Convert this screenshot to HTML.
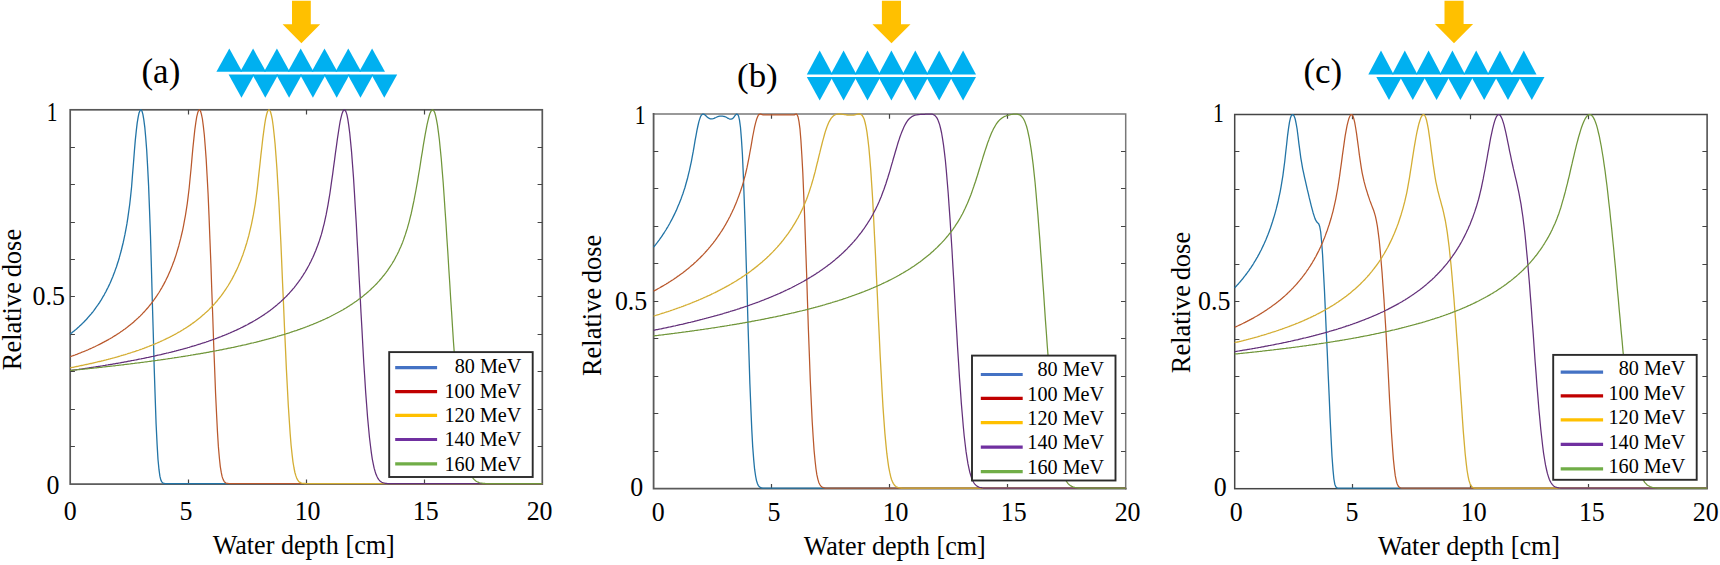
<!DOCTYPE html>
<html lang="en"><head><meta charset="utf-8"><title>Depth dose curves</title>
<style>
html,body{margin:0;padding:0;background:#fff;overflow:hidden}
svg{display:block}
text{font-family:"Liberation Serif",serif;fill:#000}
</style></head>
<body>
<svg width="1720" height="565" viewBox="0 0 1720 565">
<g id="panel-a">
<polygon fill="#FFC000" points="292.0,0.8 310.8,0.8 310.8,24.3 320.2,24.3 301.4,43.3 282.6,24.3 292.0,24.3"/>
<g fill="#00B0F0"><polygon points="216.4,71.8 242.2,71.8 229.3,48.6"/><polygon points="240.2,71.8 266.0,71.8 253.1,48.6"/><polygon points="264.0,71.8 289.8,71.8 276.9,48.6"/><polygon points="287.8,71.8 313.6,71.8 300.7,48.6"/><polygon points="311.6,71.8 337.4,71.8 324.5,48.6"/><polygon points="335.4,71.8 361.2,71.8 348.3,48.6"/><polygon points="359.2,71.8 385.0,71.8 372.1,48.6"/>
<polygon points="228.6,74.4 254.4,74.4 241.5,97.8"/><polygon points="252.4,74.4 278.2,74.4 265.3,97.8"/><polygon points="276.2,74.4 302.0,74.4 289.1,97.8"/><polygon points="300.0,74.4 325.8,74.4 312.9,97.8"/><polygon points="323.8,74.4 349.6,74.4 336.7,97.8"/><polygon points="347.6,74.4 373.4,74.4 360.5,97.8"/><polygon points="371.4,74.4 397.2,74.4 384.3,97.8"/></g>
<rect x="70.2" y="109.8" width="472.1" height="374.3" fill="none" stroke="#575757" stroke-width="1.7"/>
<path d="M70.2,446.5h4.7M542.3,446.5h-4.7M70.2,409.5h4.7M542.3,409.5h-4.7M70.2,371.5h4.7M542.3,371.5h-4.7M70.2,334.5h4.7M542.3,334.5h-4.7M70.2,296.5h4.7M542.3,296.5h-4.7M70.2,259.5h4.7M542.3,259.5h-4.7M70.2,222.5h4.7M542.3,222.5h-4.7M70.2,184.5h4.7M542.3,184.5h-4.7M70.2,147.5h4.7M542.3,147.5h-4.7M188.5,484.1v-4.7M188.5,109.8v4.7M306.5,484.1v-4.7M306.5,109.8v4.7M424.5,484.1v-4.7M424.5,109.8v4.7" stroke="#444" stroke-width="1.2" fill="none"/>
<g fill="none" stroke-linejoin="round">
<path stroke="#2274a6" stroke-width="1.3" d="M70.2,334.1 L71.1,333.3 L72.1,332.6 L73.0,331.8 L74.0,331.1 L74.9,330.3 L75.9,329.5 L76.8,328.7 L77.8,327.8 L78.7,327.0 L79.6,326.1 L80.6,325.2 L81.5,324.3 L82.5,323.4 L83.4,322.5 L84.4,321.5 L85.3,320.5 L86.3,319.5 L87.2,318.5 L88.1,317.4 L89.1,316.3 L90.0,315.2 L91.0,314.1 L91.9,313.0 L92.9,311.8 L93.8,310.6 L94.7,309.3 L95.7,308.0 L96.6,306.7 L97.6,305.4 L98.5,304.0 L99.5,302.6 L100.4,301.1 L101.4,299.6 L102.3,298.0 L103.2,296.4 L104.2,294.8 L105.1,293.0 L106.1,291.3 L107.0,289.4 L108.0,287.5 L108.9,285.6 L109.9,283.5 L110.8,281.4 L111.7,279.2 L112.7,276.9 L113.6,274.5 L114.6,272.0 L115.5,269.4 L116.5,266.7 L117.4,263.8 L118.4,260.8 L119.3,257.7 L120.2,254.3 L121.2,250.8 L122.1,247.0 L123.1,243.0 L124.0,238.8 L125.0,234.2 L125.9,229.3 L126.9,223.9 L127.8,218.1 L128.7,211.7 L129.7,204.5 L130.6,196.4 L131.6,186.7 L132.5,174.9 L133.5,162.8 L134.4,151.0 L135.3,140.1 L136.3,130.6 L137.2,122.9 L138.2,116.9 L139.1,112.7 L140.1,110.4 L141.0,109.8 L142.0,111.1 L142.9,114.4 L143.8,119.7 L144.8,127.3 L145.7,137.3 L146.7,150.2 L147.6,166.3 L148.6,185.9 L149.5,209.3 L150.5,236.5 L151.4,267.2 L152.3,300.4 L153.3,334.5 L154.2,367.7 L155.2,398.0 L156.1,423.9 L157.1,444.4 L158.0,459.5 L159.0,469.7 L159.9,476.2 L160.8,479.9 L161.8,481.9 L162.7,482.9 L163.7,483.3 L164.6,483.5 L165.6,483.6 L166.5,483.6 L542.3,483.6"/>
<path stroke="#b9582c" stroke-width="1.25" d="M70.2,356.7 L71.1,356.4 L72.1,356.0 L73.0,355.7 L74.0,355.3 L74.9,355.0 L75.9,354.6 L76.8,354.3 L77.8,353.9 L78.7,353.5 L79.6,353.2 L80.6,352.8 L81.5,352.4 L82.5,352.0 L83.4,351.7 L84.4,351.3 L85.3,350.9 L86.3,350.5 L87.2,350.1 L88.1,349.7 L89.1,349.2 L90.0,348.8 L91.0,348.4 L91.9,348.0 L92.9,347.5 L93.8,347.1 L94.7,346.7 L95.7,346.2 L96.6,345.8 L97.6,345.3 L98.5,344.8 L99.5,344.4 L100.4,343.9 L101.4,343.4 L102.3,342.9 L103.2,342.4 L104.2,341.9 L105.1,341.4 L106.1,340.9 L107.0,340.4 L108.0,339.9 L108.9,339.3 L109.9,338.8 L110.8,338.2 L111.7,337.7 L112.7,337.1 L113.6,336.5 L114.6,335.9 L115.5,335.4 L116.5,334.8 L117.4,334.1 L118.4,333.5 L119.3,332.9 L120.2,332.3 L121.2,331.6 L122.1,331.0 L123.1,330.3 L124.0,329.6 L125.0,328.9 L125.9,328.2 L126.9,327.5 L127.8,326.8 L128.7,326.0 L129.7,325.3 L130.6,324.5 L131.6,323.8 L132.5,323.0 L133.5,322.2 L134.4,321.3 L135.3,320.5 L136.3,319.6 L137.2,318.8 L138.2,317.9 L139.1,317.0 L140.1,316.1 L141.0,315.1 L142.0,314.2 L142.9,313.2 L143.8,312.2 L144.8,311.2 L145.7,310.1 L146.7,309.0 L147.6,308.0 L148.6,306.8 L149.5,305.7 L150.5,304.5 L151.4,303.3 L152.3,302.1 L153.3,300.8 L154.2,299.5 L155.2,298.2 L156.1,296.8 L157.1,295.4 L158.0,294.0 L159.0,292.5 L159.9,291.0 L160.8,289.4 L161.8,287.8 L162.7,286.1 L163.7,284.4 L164.6,282.6 L165.6,280.7 L166.5,278.8 L167.5,276.9 L168.4,274.8 L169.3,272.7 L170.3,270.5 L171.2,268.2 L172.2,265.8 L173.1,263.3 L174.1,260.7 L175.0,258.0 L176.0,255.1 L176.9,252.1 L177.8,249.0 L178.8,245.7 L179.7,242.2 L180.7,238.4 L181.6,234.5 L182.6,230.3 L183.5,225.8 L184.4,220.9 L185.4,215.6 L186.3,209.8 L187.3,203.4 L188.2,196.2 L189.2,187.8 L190.1,178.2 L191.1,168.2 L192.0,157.9 L192.9,147.9 L193.9,138.4 L194.8,129.9 L195.8,122.7 L196.7,116.9 L197.7,112.8 L198.6,110.4 L199.6,109.8 L200.5,111.0 L201.4,114.1 L202.4,119.0 L203.3,125.9 L204.3,134.8 L205.2,146.0 L206.2,159.6 L207.1,175.7 L208.1,194.3 L209.0,215.4 L209.9,238.8 L210.9,264.1 L211.8,290.8 L212.8,317.9 L213.7,344.8 L214.7,370.3 L215.6,393.9 L216.6,414.7 L217.5,432.4 L218.4,446.9 L219.4,458.2 L220.3,466.6 L221.3,472.7 L222.2,476.9 L223.2,479.6 L224.1,481.3 L225.0,482.4 L226.0,483.0 L226.9,483.3 L227.9,483.4 L228.8,483.5 L229.8,483.6 L542.3,483.6"/>
<path stroke="#d4ae34" stroke-width="1.3" d="M70.2,367.8 L71.1,367.6 L72.1,367.4 L73.0,367.3 L74.0,367.1 L74.9,366.9 L75.9,366.7 L76.8,366.5 L77.8,366.3 L78.7,366.1 L79.6,365.9 L80.6,365.7 L81.5,365.5 L82.5,365.3 L83.4,365.1 L84.4,364.9 L85.3,364.7 L86.3,364.5 L87.2,364.3 L88.1,364.1 L89.1,363.9 L90.0,363.7 L91.0,363.5 L91.9,363.3 L92.9,363.0 L93.8,362.8 L94.7,362.6 L95.7,362.4 L96.6,362.2 L97.6,361.9 L98.5,361.7 L99.5,361.5 L100.4,361.3 L101.4,361.0 L102.3,360.8 L103.2,360.6 L104.2,360.3 L105.1,360.1 L106.1,359.9 L107.0,359.6 L108.0,359.4 L108.9,359.1 L109.9,358.9 L110.8,358.6 L111.7,358.4 L112.7,358.1 L113.6,357.9 L114.6,357.6 L115.5,357.3 L116.5,357.1 L117.4,356.8 L118.4,356.5 L119.3,356.3 L120.2,356.0 L121.2,355.7 L122.1,355.4 L123.1,355.2 L124.0,354.9 L125.0,354.6 L125.9,354.3 L126.9,354.0 L127.8,353.7 L128.7,353.4 L129.7,353.1 L130.6,352.8 L131.6,352.5 L132.5,352.2 L133.5,351.9 L134.4,351.6 L135.3,351.3 L136.3,350.9 L137.2,350.6 L138.2,350.3 L139.1,350.0 L140.1,349.6 L141.0,349.3 L142.0,349.0 L142.9,348.6 L143.8,348.3 L144.8,347.9 L145.7,347.6 L146.7,347.2 L147.6,346.8 L148.6,346.5 L149.5,346.1 L150.5,345.7 L151.4,345.4 L152.3,345.0 L153.3,344.6 L154.2,344.2 L155.2,343.8 L156.1,343.4 L157.1,343.0 L158.0,342.6 L159.0,342.2 L159.9,341.8 L160.8,341.3 L161.8,340.9 L162.7,340.5 L163.7,340.0 L164.6,339.6 L165.6,339.1 L166.5,338.7 L167.5,338.2 L168.4,337.8 L169.3,337.3 L170.3,336.8 L171.2,336.3 L172.2,335.8 L173.1,335.3 L174.1,334.8 L175.0,334.3 L176.0,333.8 L176.9,333.3 L177.8,332.7 L178.8,332.2 L179.7,331.7 L180.7,331.1 L181.6,330.5 L182.6,330.0 L183.5,329.4 L184.4,328.8 L185.4,328.2 L186.3,327.6 L187.3,327.0 L188.2,326.4 L189.2,325.7 L190.1,325.1 L191.1,324.4 L192.0,323.8 L192.9,323.1 L193.9,322.4 L194.8,321.7 L195.8,321.0 L196.7,320.3 L197.7,319.5 L198.6,318.8 L199.6,318.0 L200.5,317.2 L201.4,316.4 L202.4,315.6 L203.3,314.8 L204.3,314.0 L205.2,313.1 L206.2,312.3 L207.1,311.4 L208.1,310.5 L209.0,309.6 L209.9,308.6 L210.9,307.7 L211.8,306.7 L212.8,305.7 L213.7,304.7 L214.7,303.6 L215.6,302.5 L216.6,301.5 L217.5,300.3 L218.4,299.2 L219.4,298.0 L220.3,296.8 L221.3,295.6 L222.2,294.3 L223.2,293.0 L224.1,291.7 L225.0,290.3 L226.0,288.9 L226.9,287.5 L227.9,286.0 L228.8,284.5 L229.8,282.9 L230.7,281.3 L231.7,279.6 L232.6,277.9 L233.5,276.1 L234.5,274.3 L235.4,272.4 L236.4,270.4 L237.3,268.4 L238.3,266.3 L239.2,264.1 L240.2,261.8 L241.1,259.4 L242.0,256.9 L243.0,254.4 L243.9,251.6 L244.9,248.8 L245.8,245.8 L246.8,242.7 L247.7,239.4 L248.7,235.9 L249.6,232.2 L250.5,228.3 L251.5,224.1 L252.4,219.6 L253.4,214.7 L254.3,209.4 L255.3,203.6 L256.2,197.0 L257.2,189.3 L258.1,181.1 L259.0,172.6 L260.0,163.8 L260.9,155.1 L261.9,146.5 L262.8,138.4 L263.8,130.9 L264.7,124.4 L265.6,118.8 L266.6,114.5 L267.5,111.5 L268.5,110.0 L269.4,110.0 L270.4,111.5 L271.3,114.7 L272.3,119.5 L273.2,126.0 L274.1,134.2 L275.1,144.2 L276.0,156.0 L277.0,169.7 L277.9,185.1 L278.9,202.3 L279.8,221.0 L280.8,241.0 L281.7,262.1 L282.6,283.8 L283.6,305.9 L284.5,327.8 L285.5,349.1 L286.4,369.4 L287.4,388.3 L288.3,405.5 L289.3,420.8 L290.2,434.0 L291.1,445.3 L292.1,454.6 L293.0,462.1 L294.0,468.0 L294.9,472.5 L295.9,475.9 L296.8,478.4 L297.8,480.2 L298.7,481.4 L299.6,482.2 L300.6,482.7 L301.5,483.1 L302.5,483.3 L303.4,483.4 L304.4,483.5 L305.3,483.5 L306.2,483.6 L542.3,483.6"/>
<path stroke="#63307a" stroke-width="1.25" d="M70.2,370.5 L71.1,370.4 L72.1,370.3 L73.0,370.1 L74.0,370.0 L74.9,369.9 L75.9,369.8 L76.8,369.6 L77.8,369.5 L78.7,369.4 L79.6,369.2 L80.6,369.1 L81.5,369.0 L82.5,368.8 L83.4,368.7 L84.4,368.5 L85.3,368.4 L86.3,368.3 L87.2,368.1 L88.1,368.0 L89.1,367.8 L90.0,367.7 L91.0,367.6 L91.9,367.4 L92.9,367.3 L93.8,367.1 L94.7,367.0 L95.7,366.8 L96.6,366.7 L97.6,366.6 L98.5,366.4 L99.5,366.3 L100.4,366.1 L101.4,366.0 L102.3,365.8 L103.2,365.7 L104.2,365.5 L105.1,365.4 L106.1,365.2 L107.0,365.0 L108.0,364.9 L108.9,364.7 L109.9,364.6 L110.8,364.4 L111.7,364.3 L112.7,364.1 L113.6,363.9 L114.6,363.8 L115.5,363.6 L116.5,363.4 L117.4,363.3 L118.4,363.1 L119.3,363.0 L120.2,362.8 L121.2,362.6 L122.1,362.4 L123.1,362.3 L124.0,362.1 L125.0,361.9 L125.9,361.8 L126.9,361.6 L127.8,361.4 L128.7,361.2 L129.7,361.1 L130.6,360.9 L131.6,360.7 L132.5,360.5 L133.5,360.3 L134.4,360.2 L135.3,360.0 L136.3,359.8 L137.2,359.6 L138.2,359.4 L139.1,359.2 L140.1,359.0 L141.0,358.9 L142.0,358.7 L142.9,358.5 L143.8,358.3 L144.8,358.1 L145.7,357.9 L146.7,357.7 L147.6,357.5 L148.6,357.3 L149.5,357.1 L150.5,356.9 L151.4,356.7 L152.3,356.5 L153.3,356.3 L154.2,356.1 L155.2,355.9 L156.1,355.6 L157.1,355.4 L158.0,355.2 L159.0,355.0 L159.9,354.8 L160.8,354.6 L161.8,354.3 L162.7,354.1 L163.7,353.9 L164.6,353.7 L165.6,353.5 L166.5,353.2 L167.5,353.0 L168.4,352.8 L169.3,352.5 L170.3,352.3 L171.2,352.1 L172.2,351.8 L173.1,351.6 L174.1,351.4 L175.0,351.1 L176.0,350.9 L176.9,350.6 L177.8,350.4 L178.8,350.1 L179.7,349.9 L180.7,349.6 L181.6,349.4 L182.6,349.1 L183.5,348.8 L184.4,348.6 L185.4,348.3 L186.3,348.1 L187.3,347.8 L188.2,347.5 L189.2,347.3 L190.1,347.0 L191.1,346.7 L192.0,346.4 L192.9,346.1 L193.9,345.9 L194.8,345.6 L195.8,345.3 L196.7,345.0 L197.7,344.7 L198.6,344.4 L199.6,344.1 L200.5,343.8 L201.4,343.5 L202.4,343.2 L203.3,342.9 L204.3,342.6 L205.2,342.3 L206.2,342.0 L207.1,341.6 L208.1,341.3 L209.0,341.0 L209.9,340.7 L210.9,340.3 L211.8,340.0 L212.8,339.7 L213.7,339.3 L214.7,339.0 L215.6,338.6 L216.6,338.3 L217.5,337.9 L218.4,337.6 L219.4,337.2 L220.3,336.9 L221.3,336.5 L222.2,336.1 L223.2,335.7 L224.1,335.4 L225.0,335.0 L226.0,334.6 L226.9,334.2 L227.9,333.8 L228.8,333.4 L229.8,333.0 L230.7,332.6 L231.7,332.2 L232.6,331.8 L233.5,331.4 L234.5,330.9 L235.4,330.5 L236.4,330.1 L237.3,329.6 L238.3,329.2 L239.2,328.7 L240.2,328.3 L241.1,327.8 L242.0,327.4 L243.0,326.9 L243.9,326.4 L244.9,325.9 L245.8,325.4 L246.8,325.0 L247.7,324.5 L248.7,323.9 L249.6,323.4 L250.5,322.9 L251.5,322.4 L252.4,321.9 L253.4,321.3 L254.3,320.8 L255.3,320.2 L256.2,319.6 L257.2,319.1 L258.1,318.5 L259.0,317.9 L260.0,317.3 L260.9,316.7 L261.9,316.1 L262.8,315.5 L263.8,314.9 L264.7,314.2 L265.6,313.6 L266.6,312.9 L267.5,312.2 L268.5,311.6 L269.4,310.9 L270.4,310.2 L271.3,309.4 L272.3,308.7 L273.2,308.0 L274.1,307.2 L275.1,306.5 L276.0,305.7 L277.0,304.9 L277.9,304.1 L278.9,303.3 L279.8,302.5 L280.8,301.6 L281.7,300.7 L282.6,299.9 L283.6,299.0 L284.5,298.0 L285.5,297.1 L286.4,296.2 L287.4,295.2 L288.3,294.2 L289.3,293.2 L290.2,292.1 L291.1,291.1 L292.1,290.0 L293.0,288.9 L294.0,287.8 L294.9,286.6 L295.9,285.4 L296.8,284.2 L297.8,282.9 L298.7,281.7 L299.6,280.4 L300.6,279.0 L301.5,277.6 L302.5,276.2 L303.4,274.7 L304.4,273.2 L305.3,271.7 L306.2,270.1 L307.2,268.4 L308.1,266.7 L309.1,265.0 L310.0,263.1 L311.0,261.2 L311.9,259.3 L312.9,257.3 L313.8,255.2 L314.7,253.0 L315.7,250.7 L316.6,248.3 L317.6,245.8 L318.5,243.2 L319.5,240.4 L320.4,237.5 L321.4,234.4 L322.3,231.0 L323.2,227.4 L324.2,223.6 L325.1,219.4 L326.1,214.9 L327.0,210.1 L328.0,204.9 L328.9,199.4 L329.9,193.5 L330.8,187.2 L331.7,180.7 L332.7,173.9 L333.6,166.9 L334.6,159.7 L335.5,152.6 L336.5,145.6 L337.4,138.8 L338.4,132.4 L339.3,126.5 L340.2,121.2 L341.2,116.8 L342.1,113.4 L343.1,111.0 L344.0,109.9 L345.0,110.1 L345.9,111.6 L346.9,114.6 L347.8,119.1 L348.7,125.2 L349.7,132.8 L350.6,141.9 L351.6,152.4 L352.5,164.4 L353.5,177.6 L354.4,192.1 L355.3,207.6 L356.3,224.0 L357.2,241.2 L358.2,258.8 L359.1,276.7 L360.1,294.7 L361.0,312.6 L362.0,330.1 L362.9,347.0 L363.8,363.2 L364.8,378.4 L365.7,392.6 L366.7,405.7 L367.6,417.6 L368.6,428.3 L369.5,437.7 L370.5,446.0 L371.4,453.1 L372.3,459.1 L373.3,464.2 L374.2,468.4 L375.2,471.8 L376.1,474.6 L377.1,476.8 L378.0,478.5 L379.0,479.8 L379.9,480.9 L380.8,481.6 L381.8,482.2 L382.7,482.6 L383.7,482.9 L384.6,483.1 L385.6,483.3 L386.5,483.4 L387.5,483.5 L388.4,483.5 L389.3,483.5 L390.3,483.6 L542.3,483.6"/>
<path stroke="#70963a" stroke-width="1.25" d="M70.2,370.5 L71.1,370.4 L72.1,370.3 L73.0,370.2 L74.0,370.1 L74.9,370.0 L75.9,369.9 L76.8,369.8 L77.8,369.7 L78.7,369.6 L79.6,369.6 L80.6,369.5 L81.5,369.4 L82.5,369.3 L83.4,369.2 L84.4,369.1 L85.3,369.0 L86.3,368.9 L87.2,368.8 L88.1,368.7 L89.1,368.6 L90.0,368.5 L91.0,368.4 L91.9,368.3 L92.9,368.2 L93.8,368.1 L94.7,368.0 L95.7,367.9 L96.6,367.8 L97.6,367.7 L98.5,367.6 L99.5,367.5 L100.4,367.4 L101.4,367.3 L102.3,367.2 L103.2,367.0 L104.2,366.9 L105.1,366.8 L106.1,366.7 L107.0,366.6 L108.0,366.5 L108.9,366.4 L109.9,366.3 L110.8,366.2 L111.7,366.1 L112.7,366.0 L113.6,365.9 L114.6,365.8 L115.5,365.7 L116.5,365.5 L117.4,365.4 L118.4,365.3 L119.3,365.2 L120.2,365.1 L121.2,365.0 L122.1,364.9 L123.1,364.8 L124.0,364.6 L125.0,364.5 L125.9,364.4 L126.9,364.3 L127.8,364.2 L128.7,364.1 L129.7,364.0 L130.6,363.8 L131.6,363.7 L132.5,363.6 L133.5,363.5 L134.4,363.4 L135.3,363.2 L136.3,363.1 L137.2,363.0 L138.2,362.9 L139.1,362.8 L140.1,362.6 L141.0,362.5 L142.0,362.4 L142.9,362.3 L143.8,362.2 L144.8,362.0 L145.7,361.9 L146.7,361.8 L147.6,361.7 L148.6,361.5 L149.5,361.4 L150.5,361.3 L151.4,361.1 L152.3,361.0 L153.3,360.9 L154.2,360.8 L155.2,360.6 L156.1,360.5 L157.1,360.4 L158.0,360.2 L159.0,360.1 L159.9,360.0 L160.8,359.8 L161.8,359.7 L162.7,359.6 L163.7,359.4 L164.6,359.3 L165.6,359.2 L166.5,359.0 L167.5,358.9 L168.4,358.7 L169.3,358.6 L170.3,358.5 L171.2,358.3 L172.2,358.2 L173.1,358.0 L174.1,357.9 L175.0,357.7 L176.0,357.6 L176.9,357.5 L177.8,357.3 L178.8,357.2 L179.7,357.0 L180.7,356.9 L181.6,356.7 L182.6,356.6 L183.5,356.4 L184.4,356.3 L185.4,356.1 L186.3,356.0 L187.3,355.8 L188.2,355.7 L189.2,355.5 L190.1,355.4 L191.1,355.2 L192.0,355.0 L192.9,354.9 L193.9,354.7 L194.8,354.6 L195.8,354.4 L196.7,354.2 L197.7,354.1 L198.6,353.9 L199.6,353.8 L200.5,353.6 L201.4,353.4 L202.4,353.3 L203.3,353.1 L204.3,352.9 L205.2,352.8 L206.2,352.6 L207.1,352.4 L208.1,352.3 L209.0,352.1 L209.9,351.9 L210.9,351.7 L211.8,351.6 L212.8,351.4 L213.7,351.2 L214.7,351.0 L215.6,350.9 L216.6,350.7 L217.5,350.5 L218.4,350.3 L219.4,350.1 L220.3,349.9 L221.3,349.8 L222.2,349.6 L223.2,349.4 L224.1,349.2 L225.0,349.0 L226.0,348.8 L226.9,348.6 L227.9,348.4 L228.8,348.2 L229.8,348.1 L230.7,347.9 L231.7,347.7 L232.6,347.5 L233.5,347.3 L234.5,347.1 L235.4,346.9 L236.4,346.7 L237.3,346.5 L238.3,346.2 L239.2,346.0 L240.2,345.8 L241.1,345.6 L242.0,345.4 L243.0,345.2 L243.9,345.0 L244.9,344.8 L245.8,344.6 L246.8,344.3 L247.7,344.1 L248.7,343.9 L249.6,343.7 L250.5,343.4 L251.5,343.2 L252.4,343.0 L253.4,342.8 L254.3,342.5 L255.3,342.3 L256.2,342.1 L257.2,341.8 L258.1,341.6 L259.0,341.4 L260.0,341.1 L260.9,340.9 L261.9,340.6 L262.8,340.4 L263.8,340.2 L264.7,339.9 L265.6,339.7 L266.6,339.4 L267.5,339.2 L268.5,338.9 L269.4,338.6 L270.4,338.4 L271.3,338.1 L272.3,337.9 L273.2,337.6 L274.1,337.3 L275.1,337.1 L276.0,336.8 L277.0,336.5 L277.9,336.2 L278.9,336.0 L279.8,335.7 L280.8,335.4 L281.7,335.1 L282.6,334.8 L283.6,334.6 L284.5,334.3 L285.5,334.0 L286.4,333.7 L287.4,333.4 L288.3,333.1 L289.3,332.8 L290.2,332.5 L291.1,332.2 L292.1,331.8 L293.0,331.5 L294.0,331.2 L294.9,330.9 L295.9,330.6 L296.8,330.3 L297.8,329.9 L298.7,329.6 L299.6,329.3 L300.6,328.9 L301.5,328.6 L302.5,328.3 L303.4,327.9 L304.4,327.6 L305.3,327.2 L306.2,326.9 L307.2,326.5 L308.1,326.1 L309.1,325.8 L310.0,325.4 L311.0,325.0 L311.9,324.7 L312.9,324.3 L313.8,323.9 L314.7,323.5 L315.7,323.1 L316.6,322.7 L317.6,322.3 L318.5,321.9 L319.5,321.5 L320.4,321.1 L321.4,320.7 L322.3,320.3 L323.2,319.8 L324.2,319.4 L325.1,319.0 L326.1,318.5 L327.0,318.1 L328.0,317.6 L328.9,317.2 L329.9,316.7 L330.8,316.3 L331.7,315.8 L332.7,315.3 L333.6,314.8 L334.6,314.3 L335.5,313.8 L336.5,313.3 L337.4,312.8 L338.4,312.3 L339.3,311.8 L340.2,311.3 L341.2,310.7 L342.1,310.2 L343.1,309.7 L344.0,309.1 L345.0,308.5 L345.9,308.0 L346.9,307.4 L347.8,306.8 L348.7,306.2 L349.7,305.6 L350.6,305.0 L351.6,304.4 L352.5,303.8 L353.5,303.1 L354.4,302.5 L355.3,301.8 L356.3,301.2 L357.2,300.5 L358.2,299.8 L359.1,299.1 L360.1,298.4 L361.0,297.7 L362.0,296.9 L362.9,296.2 L363.8,295.4 L364.8,294.6 L365.7,293.9 L366.7,293.1 L367.6,292.2 L368.6,291.4 L369.5,290.6 L370.5,289.7 L371.4,288.8 L372.3,287.9 L373.3,287.0 L374.2,286.1 L375.2,285.1 L376.1,284.2 L377.1,283.2 L378.0,282.1 L379.0,281.1 L379.9,280.0 L380.8,279.0 L381.8,277.8 L382.7,276.7 L383.7,275.5 L384.6,274.3 L385.6,273.1 L386.5,271.9 L387.5,270.6 L388.4,269.2 L389.3,267.9 L390.3,266.4 L391.2,265.0 L392.2,263.5 L393.1,261.9 L394.1,260.3 L395.0,258.6 L395.9,256.8 L396.9,255.0 L397.8,253.2 L398.8,251.2 L399.7,249.1 L400.7,247.0 L401.6,244.7 L402.6,242.4 L403.5,239.9 L404.4,237.2 L405.4,234.4 L406.3,231.5 L407.3,228.4 L408.2,225.1 L409.2,221.6 L410.1,217.9 L411.1,214.0 L412.0,209.9 L412.9,205.5 L413.9,200.9 L414.8,196.1 L415.8,191.0 L416.7,185.8 L417.7,180.3 L418.6,174.7 L419.6,169.0 L420.5,163.1 L421.4,157.2 L422.4,151.3 L423.3,145.4 L424.3,139.7 L425.2,134.3 L426.2,129.1 L427.1,124.4 L428.1,120.1 L429.0,116.5 L429.9,113.5 L430.9,111.4 L431.8,110.1 L432.8,109.8 L433.7,110.6 L434.7,112.5 L435.6,115.6 L436.5,119.8 L437.5,125.3 L438.4,132.1 L439.4,140.0 L440.3,149.1 L441.3,159.3 L442.2,170.6 L443.2,182.7 L444.1,195.7 L445.0,209.5 L446.0,223.8 L446.9,238.5 L447.9,253.5 L448.8,268.7 L449.8,284.0 L450.7,299.0 L451.7,313.9 L452.6,328.4 L453.5,342.4 L454.5,355.8 L455.4,368.6 L456.4,380.7 L457.3,392.0 L458.3,402.6 L459.2,412.3 L460.2,421.3 L461.1,429.4 L462.0,436.8 L463.0,443.4 L463.9,449.3 L464.9,454.5 L465.8,459.0 L466.8,463.0 L467.7,466.5 L468.7,469.4 L469.6,471.9 L470.5,474.1 L471.5,475.9 L472.4,477.4 L473.4,478.6 L474.3,479.6 L475.3,480.5 L476.2,481.2 L477.2,481.7 L478.1,482.1 L479.0,482.5 L480.0,482.8 L480.9,483.0 L481.9,483.1 L482.8,483.3 L483.8,483.3 L484.7,483.4 L485.6,483.5 L486.6,483.5 L487.5,483.5 L488.5,483.6 L542.3,483.6"/>
</g>
<rect x="389.2" y="352.1" width="143.5" height="124.9" fill="#fff" stroke="#2b2b2b" stroke-width="1.9"/>
<line x1="395.2" x2="437.1" y1="367.7" y2="367.7" stroke="#4472C4" stroke-width="3.2"/>
<line x1="395.2" x2="437.1" y1="391.6" y2="391.6" stroke="#C00000" stroke-width="3.2"/>
<line x1="395.2" x2="437.1" y1="415.3" y2="415.3" stroke="#FFC000" stroke-width="3.2"/>
<line x1="395.2" x2="437.1" y1="439.5" y2="439.5" stroke="#7030A0" stroke-width="3.2"/>
<line x1="395.2" x2="437.1" y1="463.8" y2="463.8" stroke="#70AD47" stroke-width="3.2"/>
<g>
<text transform="translate(63.72,520.48) scale(0.915,1)" font-size="28.3">0</text>
<text transform="translate(179.51,519.90) scale(0.915,1)" font-size="28.3">5</text>
<text transform="translate(294.66,520.40) scale(0.915,1)" font-size="28.3">10</text>
<text transform="translate(412.85,520.30) scale(0.915,1)" font-size="28.3">15</text>
<text transform="translate(526.66,520.17) scale(0.915,1)" font-size="28.3">20</text>
<text transform="translate(46.85,121.30) scale(0.760,1)" font-size="28.3">1</text>
<text transform="translate(32.62,305.00) scale(0.915,1)" font-size="28.3">0.5</text>
<text transform="translate(46.54,493.56) scale(0.915,1)" font-size="28.3">0</text>
<text transform="translate(212.67,553.80) scale(0.975,1)" font-size="26.8">Water depth [cm]</text>
<text transform="translate(21.40,370.27) rotate(-90) scale(0.985,1)" font-size="26.9" word-spacing="-2.0">Relative dose</text>
<text transform="translate(141.47,82.82) scale(1.005,1)" font-size="34.8">(a)</text>
<text transform="translate(454.68,373.20) scale(0.980,1)" font-size="20.6">80 MeV</text>
<text transform="translate(444.49,398.30) scale(0.980,1)" font-size="20.6">100 MeV</text>
<text transform="translate(444.49,422.40) scale(0.980,1)" font-size="20.6">120 MeV</text>
<text transform="translate(444.49,445.50) scale(0.980,1)" font-size="20.6">140 MeV</text>
<text transform="translate(444.49,470.60) scale(0.980,1)" font-size="20.6">160 MeV</text>
</g></g>
<g id="panel-b">
<polygon fill="#FFC000" points="881.9,0.8 901.0,0.8 901.0,24.2 910.5,24.2 891.5,43.3 872.5,24.2 881.9,24.2"/>
<g fill="#00B0F0"><polygon points="806.8,74.5 832.6,74.5 819.7,50.6"/><polygon points="830.7,74.5 856.5,74.5 843.6,50.6"/><polygon points="854.6,74.5 880.4,74.5 867.5,50.6"/><polygon points="878.5,74.5 904.3,74.5 891.4,50.6"/><polygon points="902.4,74.5 928.2,74.5 915.3,50.6"/><polygon points="926.3,74.5 952.1,74.5 939.2,50.6"/><polygon points="950.2,74.5 976.0,74.5 963.1,50.6"/>
<polygon points="806.8,77.0 832.6,77.0 819.7,100.4"/><polygon points="830.7,77.0 856.5,77.0 843.6,100.4"/><polygon points="854.6,77.0 880.4,77.0 867.5,100.4"/><polygon points="878.5,77.0 904.3,77.0 891.4,100.4"/><polygon points="902.4,77.0 928.2,77.0 915.3,100.4"/><polygon points="926.3,77.0 952.1,77.0 939.2,100.4"/><polygon points="950.2,77.0 976.0,77.0 963.1,100.4"/></g>
<path d="M653.6,114.0H1125.7V488.7" fill="none" stroke="#787878" stroke-width="1.5" stroke-linecap="square"/>
<path d="M653.6,114.0V488.7H1125.7" fill="none" stroke="#5a5a5a" stroke-width="1.8" stroke-linecap="square"/>
<path d="M653.6,451.5h4.7M1125.7,451.5h-4.7M653.6,413.5h4.7M1125.7,413.5h-4.7M653.6,376.5h4.7M1125.7,376.5h-4.7M653.6,338.5h4.7M1125.7,338.5h-4.7M653.6,301.5h4.7M1125.7,301.5h-4.7M653.6,263.5h4.7M1125.7,263.5h-4.7M653.6,226.5h4.7M1125.7,226.5h-4.7M653.6,188.5h4.7M1125.7,188.5h-4.7M653.6,151.5h4.7M1125.7,151.5h-4.7M771.5,488.7v-4.7M771.5,114.0v4.7M889.5,488.7v-4.7M889.5,114.0v4.7M1007.5,488.7v-4.7M1007.5,114.0v4.7" stroke="#444" stroke-width="1.2" fill="none"/>
<g fill="none" stroke-linejoin="round">
<path stroke="#2274a6" stroke-width="1.3" d="M653.6,247.2 L654.5,246.0 L655.5,244.8 L656.4,243.6 L657.4,242.4 L658.3,241.1 L659.3,239.8 L660.2,238.5 L661.2,237.2 L662.1,235.8 L663.0,234.4 L664.0,233.0 L664.9,231.5 L665.9,230.0 L666.8,228.4 L667.8,226.8 L668.7,225.2 L669.7,223.5 L670.6,221.8 L671.5,220.1 L672.5,218.2 L673.4,216.4 L674.4,214.4 L675.3,212.5 L676.3,210.4 L677.2,208.3 L678.1,206.1 L679.1,203.8 L680.0,201.4 L681.0,199.0 L681.9,196.4 L682.9,193.7 L683.8,190.9 L684.8,188.0 L685.7,184.8 L686.6,181.5 L687.6,178.0 L688.5,174.2 L689.5,170.2 L690.4,165.9 L691.4,161.3 L692.3,156.3 L693.3,151.2 L694.2,145.8 L695.1,140.4 L696.1,135.1 L697.0,130.1 L698.0,125.5 L698.9,121.6 L699.9,118.4 L700.8,116.1 L701.8,114.7 L702.7,114.1 L703.6,114.1 L704.6,114.6 L705.5,115.4 L706.5,116.3 L707.4,117.2 L708.4,117.9 L709.3,118.4 L710.3,118.8 L711.2,118.9 L712.1,118.9 L713.1,118.7 L714.0,118.4 L715.0,117.9 L715.9,117.5 L716.9,117.0 L717.8,116.7 L718.7,116.4 L719.7,116.2 L720.6,116.1 L721.6,116.1 L722.5,116.2 L723.5,116.3 L724.4,116.5 L725.4,116.8 L726.3,117.3 L727.2,117.8 L728.2,118.3 L729.1,118.8 L730.1,119.1 L731.0,119.2 L732.0,118.9 L732.9,118.2 L733.9,117.2 L734.8,115.9 L735.7,114.8 L736.7,114.1 L737.6,114.3 L738.6,116.1 L739.5,120.2 L740.5,127.5 L741.4,138.6 L742.4,154.2 L743.3,174.4 L744.2,199.1 L745.2,227.7 L746.1,259.0 L747.1,291.8 L748.0,324.5 L749.0,355.7 L749.9,384.1 L750.9,409.0 L751.8,429.9 L752.7,446.6 L753.7,459.6 L754.6,469.2 L755.6,476.0 L756.5,480.6 L757.5,483.7 L758.4,485.6 L759.4,486.8 L760.3,487.4 L761.2,487.8 L762.2,488.0 L763.1,488.1 L764.1,488.2 L765.0,488.2 L1125.7,488.2"/>
<path stroke="#b9582c" stroke-width="1.25" d="M653.6,291.1 L654.5,290.6 L655.5,290.1 L656.4,289.6 L657.4,289.1 L658.3,288.5 L659.3,288.0 L660.2,287.5 L661.2,286.9 L662.1,286.4 L663.0,285.9 L664.0,285.3 L664.9,284.7 L665.9,284.2 L666.8,283.6 L667.8,283.0 L668.7,282.4 L669.7,281.8 L670.6,281.2 L671.5,280.6 L672.5,280.0 L673.4,279.4 L674.4,278.7 L675.3,278.1 L676.3,277.5 L677.2,276.8 L678.1,276.1 L679.1,275.5 L680.0,274.8 L681.0,274.1 L681.9,273.4 L682.9,272.7 L683.8,272.0 L684.8,271.2 L685.7,270.5 L686.6,269.7 L687.6,269.0 L688.5,268.2 L689.5,267.4 L690.4,266.6 L691.4,265.8 L692.3,265.0 L693.3,264.2 L694.2,263.3 L695.1,262.5 L696.1,261.6 L697.0,260.7 L698.0,259.8 L698.9,258.9 L699.9,258.0 L700.8,257.0 L701.8,256.0 L702.7,255.1 L703.6,254.1 L704.6,253.1 L705.5,252.0 L706.5,251.0 L707.4,249.9 L708.4,248.8 L709.3,247.7 L710.3,246.6 L711.2,245.4 L712.1,244.3 L713.1,243.1 L714.0,241.9 L715.0,240.6 L715.9,239.3 L716.9,238.0 L717.8,236.7 L718.7,235.3 L719.7,234.0 L720.6,232.5 L721.6,231.1 L722.5,229.6 L723.5,228.1 L724.4,226.5 L725.4,224.9 L726.3,223.2 L727.2,221.6 L728.2,219.8 L729.1,218.0 L730.1,216.2 L731.0,214.3 L732.0,212.3 L732.9,210.3 L733.9,208.2 L734.8,206.1 L735.7,203.9 L736.7,201.5 L737.6,199.1 L738.6,196.6 L739.5,194.0 L740.5,191.3 L741.4,188.5 L742.4,185.5 L743.3,182.3 L744.2,178.9 L745.2,175.4 L746.1,171.5 L747.1,167.2 L748.0,162.6 L749.0,157.6 L749.9,152.5 L750.9,147.1 L751.8,141.8 L752.7,136.5 L753.7,131.5 L754.6,126.9 L755.6,122.9 L756.5,119.6 L757.5,117.1 L758.4,114.9 L759.4,114.4 L760.3,114.0 L761.2,114.2 L762.2,114.7 L763.1,114.9 L764.1,114.9 L765.0,114.9 L766.0,114.9 L766.9,114.9 L767.8,114.9 L768.8,114.9 L769.7,114.9 L770.7,114.9 L771.6,114.9 L772.6,114.9 L773.5,114.9 L774.5,114.9 L775.4,114.9 L776.3,114.9 L777.3,114.9 L778.2,114.9 L779.2,114.9 L780.1,114.9 L781.1,114.9 L782.0,114.9 L783.0,114.9 L783.9,114.9 L784.8,114.9 L785.8,114.9 L786.7,114.9 L787.7,114.9 L788.6,114.9 L789.6,114.9 L790.5,114.9 L791.5,114.9 L792.4,114.9 L793.3,114.9 L794.3,114.9 L795.2,114.4 L796.2,114.0 L797.1,114.7 L798.1,117.1 L799.0,121.7 L800.0,129.2 L800.9,140.1 L801.8,154.5 L802.8,172.6 L803.7,194.1 L804.7,218.6 L805.6,245.2 L806.6,273.2 L807.5,301.7 L808.4,329.6 L809.4,356.2 L810.3,380.7 L811.3,402.5 L812.2,421.5 L813.2,437.5 L814.1,450.6 L815.1,461.0 L816.0,469.0 L816.9,474.9 L817.9,479.3 L818.8,482.4 L819.8,484.5 L820.7,485.9 L821.7,486.8 L822.6,487.4 L823.6,487.7 L824.5,487.9 L825.4,488.1 L826.4,488.1 L827.3,488.2 L828.3,488.2 L1125.7,488.2"/>
<path stroke="#d4ae34" stroke-width="1.3" d="M653.6,316.1 L654.5,315.8 L655.5,315.5 L656.4,315.2 L657.4,314.9 L658.3,314.6 L659.3,314.3 L660.2,314.0 L661.2,313.7 L662.1,313.4 L663.0,313.1 L664.0,312.8 L664.9,312.5 L665.9,312.2 L666.8,311.9 L667.8,311.6 L668.7,311.3 L669.7,311.0 L670.6,310.6 L671.5,310.3 L672.5,310.0 L673.4,309.7 L674.4,309.3 L675.3,309.0 L676.3,308.7 L677.2,308.3 L678.1,308.0 L679.1,307.7 L680.0,307.3 L681.0,307.0 L681.9,306.6 L682.9,306.3 L683.8,305.9 L684.8,305.6 L685.7,305.2 L686.6,304.9 L687.6,304.5 L688.5,304.1 L689.5,303.8 L690.4,303.4 L691.4,303.0 L692.3,302.6 L693.3,302.2 L694.2,301.9 L695.1,301.5 L696.1,301.1 L697.0,300.7 L698.0,300.3 L698.9,299.9 L699.9,299.5 L700.8,299.1 L701.8,298.7 L702.7,298.3 L703.6,297.8 L704.6,297.4 L705.5,297.0 L706.5,296.6 L707.4,296.1 L708.4,295.7 L709.3,295.3 L710.3,294.8 L711.2,294.4 L712.1,293.9 L713.1,293.5 L714.0,293.0 L715.0,292.6 L715.9,292.1 L716.9,291.6 L717.8,291.1 L718.7,290.7 L719.7,290.2 L720.6,289.7 L721.6,289.2 L722.5,288.7 L723.5,288.2 L724.4,287.7 L725.4,287.2 L726.3,286.6 L727.2,286.1 L728.2,285.6 L729.1,285.1 L730.1,284.5 L731.0,284.0 L732.0,283.4 L732.9,282.9 L733.9,282.3 L734.8,281.7 L735.7,281.2 L736.7,280.6 L737.6,280.0 L738.6,279.4 L739.5,278.8 L740.5,278.2 L741.4,277.6 L742.4,276.9 L743.3,276.3 L744.2,275.7 L745.2,275.0 L746.1,274.4 L747.1,273.7 L748.0,273.1 L749.0,272.4 L749.9,271.7 L750.9,271.0 L751.8,270.3 L752.7,269.6 L753.7,268.9 L754.6,268.1 L755.6,267.4 L756.5,266.6 L757.5,265.9 L758.4,265.1 L759.4,264.3 L760.3,263.5 L761.2,262.7 L762.2,261.9 L763.1,261.1 L764.1,260.3 L765.0,259.4 L766.0,258.6 L766.9,257.7 L767.8,256.8 L768.8,255.9 L769.7,255.0 L770.7,254.0 L771.6,253.1 L772.6,252.1 L773.5,251.1 L774.5,250.2 L775.4,249.1 L776.3,248.1 L777.3,247.1 L778.2,246.0 L779.2,244.9 L780.1,243.8 L781.1,242.7 L782.0,241.5 L783.0,240.4 L783.9,239.2 L784.8,237.9 L785.8,236.7 L786.7,235.4 L787.7,234.1 L788.6,232.8 L789.6,231.4 L790.5,230.0 L791.5,228.6 L792.4,227.2 L793.3,225.7 L794.3,224.1 L795.2,222.6 L796.2,220.9 L797.1,219.3 L798.1,217.6 L799.0,215.8 L800.0,214.0 L800.9,212.1 L801.8,210.2 L802.8,208.1 L803.7,206.0 L804.7,203.8 L805.6,201.6 L806.6,199.2 L807.5,196.7 L808.4,194.1 L809.4,191.3 L810.3,188.4 L811.3,185.4 L812.2,182.2 L813.2,178.9 L814.1,175.5 L815.1,171.9 L816.0,168.2 L816.9,164.4 L817.9,160.5 L818.8,156.6 L819.8,152.7 L820.7,148.8 L821.7,145.0 L822.6,141.4 L823.6,137.8 L824.5,134.5 L825.4,131.4 L826.4,128.5 L827.3,125.9 L828.3,123.6 L829.2,121.6 L830.2,119.9 L831.1,118.4 L832.1,117.2 L833.0,116.2 L833.9,115.5 L834.9,114.9 L835.8,114.5 L836.8,114.2 L837.7,114.1 L838.7,114.0 L839.6,114.0 L840.6,114.1 L841.5,114.2 L842.4,114.3 L843.4,114.4 L844.3,114.6 L845.3,114.7 L846.2,114.9 L847.2,115.0 L848.1,115.1 L849.0,115.2 L850.0,115.2 L850.9,115.2 L851.9,115.2 L852.8,115.1 L853.8,115.0 L854.7,114.8 L855.7,114.6 L856.6,114.4 L857.5,114.2 L858.5,114.0 L859.4,114.0 L860.4,114.2 L861.3,114.7 L862.3,115.6 L863.2,117.1 L864.2,119.3 L865.1,122.5 L866.0,126.7 L867.0,132.3 L867.9,139.3 L868.9,148.0 L869.8,158.3 L870.8,170.5 L871.7,184.4 L872.7,200.0 L873.6,217.2 L874.5,235.7 L875.5,255.2 L876.4,275.4 L877.4,296.0 L878.3,316.5 L879.3,336.7 L880.2,356.1 L881.2,374.5 L882.1,391.5 L883.0,407.1 L884.0,421.1 L884.9,433.4 L885.9,444.1 L886.8,453.2 L887.8,460.8 L888.7,467.1 L889.7,472.2 L890.6,476.2 L891.5,479.4 L892.5,481.8 L893.4,483.6 L894.4,485.0 L895.3,486.0 L896.3,486.7 L897.2,487.2 L898.1,487.5 L899.1,487.8 L900.0,487.9 L901.0,488.0 L901.9,488.1 L902.9,488.1 L903.8,488.2 L1125.7,488.2"/>
<path stroke="#63307a" stroke-width="1.25" d="M653.6,330.3 L654.5,330.1 L655.5,329.9 L656.4,329.7 L657.4,329.6 L658.3,329.4 L659.3,329.2 L660.2,329.0 L661.2,328.8 L662.1,328.6 L663.0,328.4 L664.0,328.2 L664.9,328.0 L665.9,327.8 L666.8,327.6 L667.8,327.4 L668.7,327.2 L669.7,327.0 L670.6,326.8 L671.5,326.6 L672.5,326.4 L673.4,326.2 L674.4,326.0 L675.3,325.8 L676.3,325.5 L677.2,325.3 L678.1,325.1 L679.1,324.9 L680.0,324.7 L681.0,324.5 L681.9,324.3 L682.9,324.1 L683.8,323.8 L684.8,323.6 L685.7,323.4 L686.6,323.2 L687.6,322.9 L688.5,322.7 L689.5,322.5 L690.4,322.3 L691.4,322.0 L692.3,321.8 L693.3,321.6 L694.2,321.4 L695.1,321.1 L696.1,320.9 L697.0,320.7 L698.0,320.4 L698.9,320.2 L699.9,319.9 L700.8,319.7 L701.8,319.5 L702.7,319.2 L703.6,319.0 L704.6,318.7 L705.5,318.5 L706.5,318.2 L707.4,318.0 L708.4,317.7 L709.3,317.5 L710.3,317.2 L711.2,317.0 L712.1,316.7 L713.1,316.5 L714.0,316.2 L715.0,315.9 L715.9,315.7 L716.9,315.4 L717.8,315.1 L718.7,314.9 L719.7,314.6 L720.6,314.3 L721.6,314.1 L722.5,313.8 L723.5,313.5 L724.4,313.2 L725.4,313.0 L726.3,312.7 L727.2,312.4 L728.2,312.1 L729.1,311.8 L730.1,311.5 L731.0,311.2 L732.0,311.0 L732.9,310.7 L733.9,310.4 L734.8,310.1 L735.7,309.8 L736.7,309.5 L737.6,309.2 L738.6,308.9 L739.5,308.6 L740.5,308.2 L741.4,307.9 L742.4,307.6 L743.3,307.3 L744.2,307.0 L745.2,306.7 L746.1,306.3 L747.1,306.0 L748.0,305.7 L749.0,305.4 L749.9,305.0 L750.9,304.7 L751.8,304.4 L752.7,304.0 L753.7,303.7 L754.6,303.4 L755.6,303.0 L756.5,302.7 L757.5,302.3 L758.4,302.0 L759.4,301.6 L760.3,301.2 L761.2,300.9 L762.2,300.5 L763.1,300.2 L764.1,299.8 L765.0,299.4 L766.0,299.0 L766.9,298.7 L767.8,298.3 L768.8,297.9 L769.7,297.5 L770.7,297.1 L771.6,296.7 L772.6,296.3 L773.5,295.9 L774.5,295.5 L775.4,295.1 L776.3,294.7 L777.3,294.3 L778.2,293.9 L779.2,293.5 L780.1,293.1 L781.1,292.6 L782.0,292.2 L783.0,291.8 L783.9,291.3 L784.8,290.9 L785.8,290.4 L786.7,290.0 L787.7,289.5 L788.6,289.1 L789.6,288.6 L790.5,288.2 L791.5,287.7 L792.4,287.2 L793.3,286.7 L794.3,286.3 L795.2,285.8 L796.2,285.3 L797.1,284.8 L798.1,284.3 L799.0,283.8 L800.0,283.3 L800.9,282.8 L801.8,282.2 L802.8,281.7 L803.7,281.2 L804.7,280.6 L805.6,280.1 L806.6,279.6 L807.5,279.0 L808.4,278.4 L809.4,277.9 L810.3,277.3 L811.3,276.7 L812.2,276.1 L813.2,275.6 L814.1,275.0 L815.1,274.4 L816.0,273.8 L816.9,273.1 L817.9,272.5 L818.8,271.9 L819.8,271.2 L820.7,270.6 L821.7,269.9 L822.6,269.3 L823.6,268.6 L824.5,267.9 L825.4,267.3 L826.4,266.6 L827.3,265.9 L828.3,265.1 L829.2,264.4 L830.2,263.7 L831.1,263.0 L832.1,262.2 L833.0,261.4 L833.9,260.7 L834.9,259.9 L835.8,259.1 L836.8,258.3 L837.7,257.5 L838.7,256.7 L839.6,255.8 L840.6,255.0 L841.5,254.1 L842.4,253.2 L843.4,252.4 L844.3,251.5 L845.3,250.5 L846.2,249.6 L847.2,248.7 L848.1,247.7 L849.0,246.7 L850.0,245.7 L850.9,244.7 L851.9,243.7 L852.8,242.6 L853.8,241.6 L854.7,240.5 L855.7,239.4 L856.6,238.3 L857.5,237.1 L858.5,235.9 L859.4,234.7 L860.4,233.5 L861.3,232.3 L862.3,231.0 L863.2,229.7 L864.2,228.4 L865.1,227.0 L866.0,225.6 L867.0,224.2 L867.9,222.7 L868.9,221.2 L869.8,219.7 L870.8,218.1 L871.7,216.5 L872.7,214.8 L873.6,213.0 L874.5,211.3 L875.5,209.4 L876.4,207.5 L877.4,205.5 L878.3,203.4 L879.3,201.3 L880.2,199.1 L881.2,196.7 L882.1,194.3 L883.0,191.8 L884.0,189.2 L884.9,186.5 L885.9,183.7 L886.8,180.8 L887.8,177.8 L888.7,174.8 L889.7,171.6 L890.6,168.4 L891.5,165.2 L892.5,161.9 L893.4,158.5 L894.4,155.2 L895.3,152.0 L896.3,148.7 L897.2,145.6 L898.1,142.5 L899.1,139.6 L900.0,136.8 L901.0,134.1 L901.9,131.7 L902.9,129.4 L903.8,127.2 L904.8,125.3 L905.7,123.6 L906.6,122.1 L907.6,120.7 L908.5,119.5 L909.5,118.5 L910.4,117.7 L911.4,116.9 L912.3,116.3 L913.3,115.9 L914.2,115.5 L915.1,115.2 L916.1,115.0 L917.0,114.8 L918.0,114.7 L918.9,114.6 L919.9,114.5 L920.8,114.4 L921.8,114.4 L922.7,114.4 L923.6,114.3 L924.6,114.3 L925.5,114.2 L926.5,114.2 L927.4,114.1 L928.4,114.0 L929.3,114.0 L930.3,114.0 L931.2,114.1 L932.1,114.2 L933.1,114.5 L934.0,114.9 L935.0,115.6 L935.9,116.6 L936.9,117.9 L937.8,119.6 L938.7,122.0 L939.7,124.9 L940.6,128.5 L941.6,133.0 L942.5,138.4 L943.5,144.8 L944.4,152.2 L945.4,160.8 L946.3,170.4 L947.2,181.2 L948.2,193.2 L949.1,206.1 L950.1,220.1 L951.0,234.9 L952.0,250.3 L952.9,266.4 L953.9,282.7 L954.8,299.3 L955.7,315.8 L956.7,332.1 L957.6,347.9 L958.6,363.2 L959.5,377.7 L960.5,391.4 L961.4,404.1 L962.4,415.8 L963.3,426.5 L964.2,436.0 L965.2,444.5 L966.1,451.9 L967.1,458.4 L968.0,463.9 L969.0,468.6 L969.9,472.6 L970.9,475.8 L971.8,478.5 L972.7,480.7 L973.7,482.5 L974.6,483.8 L975.6,484.9 L976.5,485.8 L977.5,486.4 L978.4,486.9 L979.3,487.3 L980.3,487.5 L981.2,487.7 L982.2,487.9 L983.1,488.0 L984.1,488.0 L985.0,488.1 L986.0,488.1 L986.9,488.2 L1125.7,488.2"/>
<path stroke="#70963a" stroke-width="1.25" d="M653.6,335.9 L654.5,335.8 L655.5,335.7 L656.4,335.6 L657.4,335.5 L658.3,335.3 L659.3,335.2 L660.2,335.1 L661.2,335.0 L662.1,334.9 L663.0,334.8 L664.0,334.6 L664.9,334.5 L665.9,334.4 L666.8,334.3 L667.8,334.2 L668.7,334.1 L669.7,333.9 L670.6,333.8 L671.5,333.7 L672.5,333.6 L673.4,333.5 L674.4,333.3 L675.3,333.2 L676.3,333.1 L677.2,333.0 L678.1,332.8 L679.1,332.7 L680.0,332.6 L681.0,332.5 L681.9,332.3 L682.9,332.2 L683.8,332.1 L684.8,332.0 L685.7,331.8 L686.6,331.7 L687.6,331.6 L688.5,331.5 L689.5,331.3 L690.4,331.2 L691.4,331.1 L692.3,330.9 L693.3,330.8 L694.2,330.7 L695.1,330.5 L696.1,330.4 L697.0,330.3 L698.0,330.1 L698.9,330.0 L699.9,329.9 L700.8,329.7 L701.8,329.6 L702.7,329.5 L703.6,329.3 L704.6,329.2 L705.5,329.0 L706.5,328.9 L707.4,328.8 L708.4,328.6 L709.3,328.5 L710.3,328.3 L711.2,328.2 L712.1,328.0 L713.1,327.9 L714.0,327.8 L715.0,327.6 L715.9,327.5 L716.9,327.3 L717.8,327.2 L718.7,327.0 L719.7,326.9 L720.6,326.7 L721.6,326.6 L722.5,326.4 L723.5,326.3 L724.4,326.1 L725.4,326.0 L726.3,325.8 L727.2,325.7 L728.2,325.5 L729.1,325.4 L730.1,325.2 L731.0,325.0 L732.0,324.9 L732.9,324.7 L733.9,324.6 L734.8,324.4 L735.7,324.3 L736.7,324.1 L737.6,323.9 L738.6,323.8 L739.5,323.6 L740.5,323.4 L741.4,323.3 L742.4,323.1 L743.3,322.9 L744.2,322.8 L745.2,322.6 L746.1,322.4 L747.1,322.3 L748.0,322.1 L749.0,321.9 L749.9,321.8 L750.9,321.6 L751.8,321.4 L752.7,321.2 L753.7,321.1 L754.6,320.9 L755.6,320.7 L756.5,320.5 L757.5,320.3 L758.4,320.2 L759.4,320.0 L760.3,319.8 L761.2,319.6 L762.2,319.4 L763.1,319.3 L764.1,319.1 L765.0,318.9 L766.0,318.7 L766.9,318.5 L767.8,318.3 L768.8,318.1 L769.7,317.9 L770.7,317.7 L771.6,317.6 L772.6,317.4 L773.5,317.2 L774.5,317.0 L775.4,316.8 L776.3,316.6 L777.3,316.4 L778.2,316.2 L779.2,316.0 L780.1,315.8 L781.1,315.6 L782.0,315.4 L783.0,315.1 L783.9,314.9 L784.8,314.7 L785.8,314.5 L786.7,314.3 L787.7,314.1 L788.6,313.9 L789.6,313.7 L790.5,313.5 L791.5,313.2 L792.4,313.0 L793.3,312.8 L794.3,312.6 L795.2,312.4 L796.2,312.1 L797.1,311.9 L798.1,311.7 L799.0,311.5 L800.0,311.2 L800.9,311.0 L801.8,310.8 L802.8,310.5 L803.7,310.3 L804.7,310.1 L805.6,309.8 L806.6,309.6 L807.5,309.3 L808.4,309.1 L809.4,308.9 L810.3,308.6 L811.3,308.4 L812.2,308.1 L813.2,307.9 L814.1,307.6 L815.1,307.4 L816.0,307.1 L816.9,306.9 L817.9,306.6 L818.8,306.3 L819.8,306.1 L820.7,305.8 L821.7,305.6 L822.6,305.3 L823.6,305.0 L824.5,304.8 L825.4,304.5 L826.4,304.2 L827.3,303.9 L828.3,303.7 L829.2,303.4 L830.2,303.1 L831.1,302.8 L832.1,302.5 L833.0,302.2 L833.9,302.0 L834.9,301.7 L835.8,301.4 L836.8,301.1 L837.7,300.8 L838.7,300.5 L839.6,300.2 L840.6,299.9 L841.5,299.6 L842.4,299.3 L843.4,298.9 L844.3,298.6 L845.3,298.3 L846.2,298.0 L847.2,297.7 L848.1,297.4 L849.0,297.0 L850.0,296.7 L850.9,296.4 L851.9,296.0 L852.8,295.7 L853.8,295.4 L854.7,295.0 L855.7,294.7 L856.6,294.3 L857.5,294.0 L858.5,293.7 L859.4,293.3 L860.4,292.9 L861.3,292.6 L862.3,292.2 L863.2,291.9 L864.2,291.5 L865.1,291.1 L866.0,290.7 L867.0,290.4 L867.9,290.0 L868.9,289.6 L869.8,289.2 L870.8,288.8 L871.7,288.4 L872.7,288.0 L873.6,287.6 L874.5,287.2 L875.5,286.8 L876.4,286.4 L877.4,286.0 L878.3,285.5 L879.3,285.1 L880.2,284.7 L881.2,284.3 L882.1,283.8 L883.0,283.4 L884.0,282.9 L884.9,282.5 L885.9,282.0 L886.8,281.6 L887.8,281.1 L888.7,280.6 L889.7,280.2 L890.6,279.7 L891.5,279.2 L892.5,278.7 L893.4,278.2 L894.4,277.7 L895.3,277.2 L896.3,276.7 L897.2,276.2 L898.1,275.7 L899.1,275.2 L900.0,274.6 L901.0,274.1 L901.9,273.5 L902.9,273.0 L903.8,272.4 L904.8,271.9 L905.7,271.3 L906.6,270.7 L907.6,270.2 L908.5,269.6 L909.5,269.0 L910.4,268.4 L911.4,267.8 L912.3,267.1 L913.3,266.5 L914.2,265.9 L915.1,265.2 L916.1,264.6 L917.0,263.9 L918.0,263.3 L918.9,262.6 L919.9,261.9 L920.8,261.2 L921.8,260.5 L922.7,259.8 L923.6,259.1 L924.6,258.3 L925.5,257.6 L926.5,256.8 L927.4,256.0 L928.4,255.3 L929.3,254.5 L930.3,253.7 L931.2,252.8 L932.1,252.0 L933.1,251.2 L934.0,250.3 L935.0,249.4 L935.9,248.5 L936.9,247.6 L937.8,246.7 L938.7,245.8 L939.7,244.8 L940.6,243.9 L941.6,242.9 L942.5,241.9 L943.5,240.8 L944.4,239.8 L945.4,238.7 L946.3,237.6 L947.2,236.5 L948.2,235.4 L949.1,234.2 L950.1,233.0 L951.0,231.8 L952.0,230.5 L952.9,229.3 L953.9,227.9 L954.8,226.6 L955.7,225.2 L956.7,223.7 L957.6,222.3 L958.6,220.7 L959.5,219.1 L960.5,217.5 L961.4,215.8 L962.4,214.0 L963.3,212.2 L964.2,210.3 L965.2,208.3 L966.1,206.3 L967.1,204.1 L968.0,201.9 L969.0,199.6 L969.9,197.2 L970.9,194.8 L971.8,192.2 L972.7,189.6 L973.7,186.8 L974.6,184.0 L975.6,181.2 L976.5,178.2 L977.5,175.2 L978.4,172.2 L979.3,169.2 L980.3,166.1 L981.2,163.0 L982.2,159.9 L983.1,156.8 L984.1,153.8 L985.0,150.9 L986.0,148.0 L986.9,145.2 L987.8,142.4 L988.8,139.9 L989.7,137.4 L990.7,135.0 L991.6,132.8 L992.6,130.8 L993.5,128.8 L994.5,127.1 L995.4,125.5 L996.3,124.0 L997.3,122.7 L998.2,121.5 L999.2,120.4 L1000.1,119.5 L1001.1,118.7 L1002.0,118.0 L1003.0,117.4 L1003.9,116.8 L1004.8,116.4 L1005.8,116.0 L1006.7,115.6 L1007.7,115.3 L1008.6,115.1 L1009.6,114.9 L1010.5,114.6 L1011.5,114.5 L1012.4,114.3 L1013.3,114.2 L1014.3,114.1 L1015.2,114.0 L1016.2,114.0 L1017.1,114.1 L1018.1,114.3 L1019.0,114.6 L1019.9,115.0 L1020.9,115.7 L1021.8,116.6 L1022.8,117.8 L1023.7,119.3 L1024.7,121.2 L1025.6,123.6 L1026.6,126.5 L1027.5,129.9 L1028.4,134.0 L1029.4,138.7 L1030.3,144.1 L1031.3,150.3 L1032.2,157.2 L1033.2,164.9 L1034.1,173.4 L1035.1,182.7 L1036.0,192.7 L1036.9,203.5 L1037.9,214.9 L1038.8,226.9 L1039.8,239.4 L1040.7,252.3 L1041.7,265.6 L1042.6,279.1 L1043.6,292.8 L1044.5,306.4 L1045.4,319.9 L1046.4,333.2 L1047.3,346.3 L1048.3,358.9 L1049.2,371.0 L1050.2,382.6 L1051.1,393.6 L1052.1,403.9 L1053.0,413.6 L1053.9,422.5 L1054.9,430.7 L1055.8,438.1 L1056.8,444.9 L1057.7,451.0 L1058.7,456.4 L1059.6,461.2 L1060.6,465.4 L1061.5,469.1 L1062.4,472.3 L1063.4,475.0 L1064.3,477.4 L1065.3,479.4 L1066.2,481.0 L1067.2,482.4 L1068.1,483.6 L1069.0,484.5 L1070.0,485.3 L1070.9,485.9 L1071.9,486.4 L1072.8,486.8 L1073.8,487.1 L1074.7,487.4 L1075.7,487.6 L1076.6,487.7 L1077.5,487.9 L1078.5,488.0 L1079.4,488.0 L1080.4,488.1 L1081.3,488.1 L1082.3,488.1 L1083.2,488.2 L1084.2,488.2 L1125.7,488.2"/>
</g>
<rect x="972.0" y="355.6" width="143.5" height="124.9" fill="#fff" stroke="#2b2b2b" stroke-width="1.9"/>
<line x1="980.8" x2="1022.7" y1="374.5" y2="374.5" stroke="#4472C4" stroke-width="3.2"/>
<line x1="980.8" x2="1022.7" y1="398.4" y2="398.4" stroke="#C00000" stroke-width="3.2"/>
<line x1="980.8" x2="1022.7" y1="422.7" y2="422.7" stroke="#FFC000" stroke-width="3.2"/>
<line x1="980.8" x2="1022.7" y1="447.1" y2="447.1" stroke="#7030A0" stroke-width="3.2"/>
<line x1="980.8" x2="1022.7" y1="471.6" y2="471.6" stroke="#70AD47" stroke-width="3.2"/>
<g>
<text transform="translate(651.72,521.08) scale(0.915,1)" font-size="28.3">0</text>
<text transform="translate(767.51,520.50) scale(0.915,1)" font-size="28.3">5</text>
<text transform="translate(882.66,521.00) scale(0.915,1)" font-size="28.3">10</text>
<text transform="translate(1000.85,520.90) scale(0.915,1)" font-size="28.3">15</text>
<text transform="translate(1114.66,520.77) scale(0.915,1)" font-size="28.3">20</text>
<text transform="translate(634.64,123.71) scale(0.760,1)" font-size="28.3">1</text>
<text transform="translate(614.91,310.00) scale(0.915,1)" font-size="28.3">0.5</text>
<text transform="translate(630.23,496.05) scale(0.915,1)" font-size="28.3">0</text>
<text transform="translate(803.66,555.40) scale(0.975,1)" font-size="26.8">Water depth [cm]</text>
<text transform="translate(600.90,376.09) rotate(-90) scale(0.985,1)" font-size="26.9" word-spacing="-2.0">Relative dose</text>
<text transform="translate(737.01,86.50) scale(1.012,1)" font-size="34.5">(b)</text>
<text transform="translate(1037.47,375.50) scale(0.980,1)" font-size="20.6">80 MeV</text>
<text transform="translate(1027.36,401.30) scale(0.980,1)" font-size="20.6">100 MeV</text>
<text transform="translate(1027.36,425.10) scale(0.980,1)" font-size="20.6">120 MeV</text>
<text transform="translate(1027.36,448.90) scale(0.980,1)" font-size="20.6">140 MeV</text>
<text transform="translate(1027.36,473.70) scale(0.980,1)" font-size="20.6">160 MeV</text>
</g></g>
<g id="panel-c">
<polygon fill="#FFC000" points="1444.5,0.8 1463.6,0.8 1463.6,24.1 1473.1,24.1 1454.0,43.3 1435.0,24.1 1444.5,24.1"/>
<g fill="#00B0F0"><polygon points="1368.3,74.5 1393.7,74.5 1381.0,50.6"/><polygon points="1392.1,74.5 1417.5,74.5 1404.8,50.6"/><polygon points="1415.9,74.5 1441.3,74.5 1428.6,50.6"/><polygon points="1439.7,74.5 1465.1,74.5 1452.4,50.6"/><polygon points="1463.5,74.5 1488.9,74.5 1476.2,50.6"/><polygon points="1487.3,74.5 1512.7,74.5 1500.0,50.6"/><polygon points="1511.1,74.5 1536.5,74.5 1523.8,50.6"/>
<polygon points="1376.3,77.0 1401.7,77.0 1389.0,100.1"/><polygon points="1400.1,77.0 1425.5,77.0 1412.8,100.1"/><polygon points="1423.9,77.0 1449.3,77.0 1436.6,100.1"/><polygon points="1447.7,77.0 1473.1,77.0 1460.4,100.1"/><polygon points="1471.5,77.0 1496.9,77.0 1484.2,100.1"/><polygon points="1495.3,77.0 1520.7,77.0 1508.0,100.1"/><polygon points="1519.1,77.0 1544.5,77.0 1531.8,100.1"/></g>
<rect x="1234.7" y="114.5" width="472.4" height="374.2" fill="none" stroke="#464646" stroke-width="1.5"/>
<path d="M1234.7,451.5h4.7M1707.1,451.5h-4.7M1234.7,413.5h4.7M1707.1,413.5h-4.7M1234.7,376.5h4.7M1707.1,376.5h-4.7M1234.7,339.5h4.7M1707.1,339.5h-4.7M1234.7,301.5h4.7M1707.1,301.5h-4.7M1234.7,264.5h4.7M1707.1,264.5h-4.7M1234.7,226.5h4.7M1707.1,226.5h-4.7M1234.7,189.5h4.7M1707.1,189.5h-4.7M1234.7,151.5h4.7M1707.1,151.5h-4.7M1352.5,488.7v-4.7M1352.5,114.5v4.7M1470.5,488.7v-4.7M1470.5,114.5v4.7M1588.5,488.7v-4.7M1588.5,114.5v4.7" stroke="#444" stroke-width="1.2" fill="none"/>
<g fill="none" stroke-linejoin="round">
<path stroke="#2274a6" stroke-width="1.3" d="M1234.7,287.8 L1235.6,286.8 L1236.6,285.8 L1237.5,284.7 L1238.5,283.7 L1239.4,282.6 L1240.4,281.5 L1241.3,280.4 L1242.3,279.3 L1243.2,278.1 L1244.1,276.9 L1245.1,275.7 L1246.0,274.5 L1247.0,273.2 L1247.9,271.9 L1248.9,270.6 L1249.8,269.2 L1250.8,267.8 L1251.7,266.4 L1252.7,265.0 L1253.6,263.5 L1254.5,261.9 L1255.5,260.4 L1256.4,258.7 L1257.4,257.1 L1258.3,255.4 L1259.3,253.6 L1260.2,251.8 L1261.2,250.0 L1262.1,248.0 L1263.0,246.1 L1264.0,244.0 L1264.9,241.9 L1265.9,239.7 L1266.8,237.5 L1267.8,235.1 L1268.7,232.7 L1269.7,230.1 L1270.6,227.5 L1271.5,224.7 L1272.5,221.8 L1273.4,218.8 L1274.4,215.6 L1275.3,212.3 L1276.3,208.7 L1277.2,205.0 L1278.2,201.0 L1279.1,196.7 L1280.1,192.1 L1281.0,187.2 L1281.9,181.7 L1282.9,175.6 L1283.8,168.7 L1284.8,161.0 L1285.7,152.5 L1286.7,143.8 L1287.6,135.3 L1288.6,127.9 L1289.5,122.1 L1290.4,118.1 L1291.4,115.6 L1292.3,114.6 L1293.3,114.8 L1294.2,116.2 L1295.2,119.0 L1296.1,123.3 L1297.1,129.0 L1298.0,136.0 L1298.9,143.6 L1299.9,151.0 L1300.8,157.8 L1301.8,163.7 L1302.7,168.8 L1303.7,173.4 L1304.6,177.6 L1305.6,181.8 L1306.5,185.8 L1307.4,189.9 L1308.4,193.9 L1309.3,197.9 L1310.3,201.8 L1311.2,205.6 L1312.2,209.3 L1313.1,212.7 L1314.1,215.9 L1315.0,218.6 L1316.0,220.7 L1316.9,222.1 L1317.8,222.9 L1318.8,224.0 L1319.7,226.5 L1320.7,232.0 L1321.6,241.5 L1322.6,255.2 L1323.5,272.2 L1324.5,291.3 L1325.4,311.4 L1326.3,332.1 L1327.3,353.2 L1328.2,374.7 L1329.2,396.6 L1330.1,418.3 L1331.1,438.7 L1332.0,456.3 L1333.0,469.9 L1333.9,479.0 L1334.8,484.2 L1335.8,486.7 L1336.7,487.7 L1337.7,488.1 L1338.6,488.2 L1339.6,488.2 L1707.1,488.2"/>
<path stroke="#b9582c" stroke-width="1.25" d="M1234.7,327.3 L1235.6,326.8 L1236.6,326.4 L1237.5,326.0 L1238.5,325.5 L1239.4,325.1 L1240.4,324.7 L1241.3,324.2 L1242.3,323.7 L1243.2,323.3 L1244.1,322.8 L1245.1,322.4 L1246.0,321.9 L1247.0,321.4 L1247.9,320.9 L1248.9,320.4 L1249.8,319.9 L1250.8,319.4 L1251.7,318.9 L1252.7,318.4 L1253.6,317.9 L1254.5,317.3 L1255.5,316.8 L1256.4,316.2 L1257.4,315.7 L1258.3,315.1 L1259.3,314.6 L1260.2,314.0 L1261.2,313.4 L1262.1,312.8 L1263.0,312.2 L1264.0,311.6 L1264.9,311.0 L1265.9,310.4 L1266.8,309.8 L1267.8,309.1 L1268.7,308.5 L1269.7,307.8 L1270.6,307.2 L1271.5,306.5 L1272.5,305.8 L1273.4,305.1 L1274.4,304.4 L1275.3,303.7 L1276.3,303.0 L1277.2,302.2 L1278.2,301.5 L1279.1,300.7 L1280.1,300.0 L1281.0,299.2 L1281.9,298.4 L1282.9,297.6 L1283.8,296.7 L1284.8,295.9 L1285.7,295.1 L1286.7,294.2 L1287.6,293.3 L1288.6,292.4 L1289.5,291.5 L1290.4,290.6 L1291.4,289.6 L1292.3,288.6 L1293.3,287.7 L1294.2,286.7 L1295.2,285.6 L1296.1,284.6 L1297.1,283.5 L1298.0,282.4 L1298.9,281.3 L1299.9,280.2 L1300.8,279.0 L1301.8,277.8 L1302.7,276.6 L1303.7,275.4 L1304.6,274.1 L1305.6,272.8 L1306.5,271.5 L1307.4,270.1 L1308.4,268.8 L1309.3,267.3 L1310.3,265.9 L1311.2,264.4 L1312.2,262.8 L1313.1,261.2 L1314.1,259.6 L1315.0,257.9 L1316.0,256.2 L1316.9,254.4 L1317.8,252.6 L1318.8,250.7 L1319.7,248.7 L1320.7,246.7 L1321.6,244.6 L1322.6,242.4 L1323.5,240.1 L1324.5,237.8 L1325.4,235.4 L1326.3,232.8 L1327.3,230.2 L1328.2,227.4 L1329.2,224.5 L1330.1,221.5 L1331.1,218.3 L1332.0,214.9 L1333.0,211.3 L1333.9,207.4 L1334.8,203.3 L1335.8,198.8 L1336.7,193.9 L1337.7,188.5 L1338.6,182.6 L1339.6,176.2 L1340.5,169.4 L1341.5,162.4 L1342.4,155.3 L1343.4,148.4 L1344.3,141.8 L1345.2,135.7 L1346.2,130.2 L1347.1,125.4 L1348.1,121.4 L1349.0,118.2 L1350.0,116.0 L1350.9,114.7 L1351.9,114.6 L1352.8,115.8 L1353.7,118.3 L1354.7,122.3 L1355.6,127.5 L1356.6,133.8 L1357.5,140.7 L1358.5,148.0 L1359.4,155.2 L1360.4,161.8 L1361.3,167.8 L1362.2,173.1 L1363.2,177.7 L1364.1,181.7 L1365.1,185.3 L1366.0,188.6 L1367.0,191.7 L1367.9,194.8 L1368.9,197.6 L1369.8,200.4 L1370.8,203.0 L1371.7,205.4 L1372.6,207.8 L1373.6,210.3 L1374.5,213.1 L1375.5,216.6 L1376.4,220.9 L1377.4,226.3 L1378.3,233.1 L1379.3,241.2 L1380.2,250.6 L1381.1,261.3 L1382.1,273.1 L1383.0,286.0 L1384.0,299.9 L1384.9,314.7 L1385.9,330.5 L1386.8,347.1 L1387.8,364.5 L1388.7,382.3 L1389.6,400.1 L1390.6,417.3 L1391.5,433.3 L1392.5,447.5 L1393.4,459.4 L1394.4,468.9 L1395.3,475.9 L1396.3,480.8 L1397.2,484.0 L1398.2,486.0 L1399.1,487.1 L1400.0,487.7 L1401.0,488.0 L1401.9,488.1 L1402.9,488.2 L1403.8,488.2 L1707.1,488.2"/>
<path stroke="#d4ae34" stroke-width="1.3" d="M1234.7,342.7 L1235.6,342.4 L1236.6,342.2 L1237.5,342.0 L1238.5,341.8 L1239.4,341.5 L1240.4,341.3 L1241.3,341.1 L1242.3,340.8 L1243.2,340.6 L1244.1,340.3 L1245.1,340.1 L1246.0,339.9 L1247.0,339.6 L1247.9,339.4 L1248.9,339.1 L1249.8,338.9 L1250.8,338.6 L1251.7,338.4 L1252.7,338.1 L1253.6,337.9 L1254.5,337.6 L1255.5,337.3 L1256.4,337.1 L1257.4,336.8 L1258.3,336.5 L1259.3,336.3 L1260.2,336.0 L1261.2,335.7 L1262.1,335.4 L1263.0,335.2 L1264.0,334.9 L1264.9,334.6 L1265.9,334.3 L1266.8,334.0 L1267.8,333.7 L1268.7,333.4 L1269.7,333.1 L1270.6,332.8 L1271.5,332.5 L1272.5,332.2 L1273.4,331.9 L1274.4,331.6 L1275.3,331.3 L1276.3,331.0 L1277.2,330.7 L1278.2,330.4 L1279.1,330.0 L1280.1,329.7 L1281.0,329.4 L1281.9,329.1 L1282.9,328.7 L1283.8,328.4 L1284.8,328.0 L1285.7,327.7 L1286.7,327.4 L1287.6,327.0 L1288.6,326.7 L1289.5,326.3 L1290.4,325.9 L1291.4,325.6 L1292.3,325.2 L1293.3,324.9 L1294.2,324.5 L1295.2,324.1 L1296.1,323.7 L1297.1,323.3 L1298.0,323.0 L1298.9,322.6 L1299.9,322.2 L1300.8,321.8 L1301.8,321.4 L1302.7,321.0 L1303.7,320.6 L1304.6,320.1 L1305.6,319.7 L1306.5,319.3 L1307.4,318.9 L1308.4,318.4 L1309.3,318.0 L1310.3,317.6 L1311.2,317.1 L1312.2,316.7 L1313.1,316.2 L1314.1,315.7 L1315.0,315.3 L1316.0,314.8 L1316.9,314.3 L1317.8,313.8 L1318.8,313.3 L1319.7,312.9 L1320.7,312.4 L1321.6,311.8 L1322.6,311.3 L1323.5,310.8 L1324.5,310.3 L1325.4,309.8 L1326.3,309.2 L1327.3,308.7 L1328.2,308.1 L1329.2,307.6 L1330.1,307.0 L1331.1,306.4 L1332.0,305.9 L1333.0,305.3 L1333.9,304.7 L1334.8,304.1 L1335.8,303.5 L1336.7,302.8 L1337.7,302.2 L1338.6,301.6 L1339.6,300.9 L1340.5,300.3 L1341.5,299.6 L1342.4,298.9 L1343.4,298.3 L1344.3,297.6 L1345.2,296.9 L1346.2,296.2 L1347.1,295.4 L1348.1,294.7 L1349.0,293.9 L1350.0,293.2 L1350.9,292.4 L1351.9,291.6 L1352.8,290.8 L1353.7,290.0 L1354.7,289.2 L1355.6,288.4 L1356.6,287.5 L1357.5,286.7 L1358.5,285.8 L1359.4,284.9 L1360.4,284.0 L1361.3,283.0 L1362.2,282.1 L1363.2,281.1 L1364.1,280.2 L1365.1,279.2 L1366.0,278.1 L1367.0,277.1 L1367.9,276.0 L1368.9,275.0 L1369.8,273.9 L1370.8,272.7 L1371.7,271.6 L1372.6,270.4 L1373.6,269.2 L1374.5,268.0 L1375.5,266.7 L1376.4,265.5 L1377.4,264.1 L1378.3,262.8 L1379.3,261.4 L1380.2,260.0 L1381.1,258.6 L1382.1,257.1 L1383.0,255.5 L1384.0,254.0 L1384.9,252.4 L1385.9,250.7 L1386.8,249.0 L1387.8,247.2 L1388.7,245.4 L1389.6,243.6 L1390.6,241.6 L1391.5,239.7 L1392.5,237.6 L1393.4,235.5 L1394.4,233.3 L1395.3,231.0 L1396.3,228.6 L1397.2,226.1 L1398.2,223.5 L1399.1,220.8 L1400.0,218.0 L1401.0,215.0 L1401.9,211.9 L1402.9,208.6 L1403.8,205.1 L1404.8,201.4 L1405.7,197.4 L1406.7,193.1 L1407.6,188.4 L1408.5,183.2 L1409.5,177.6 L1410.4,171.7 L1411.4,165.5 L1412.3,159.4 L1413.3,153.2 L1414.2,147.3 L1415.2,141.7 L1416.1,136.5 L1417.0,131.8 L1418.0,127.5 L1418.9,123.7 L1419.9,120.5 L1420.8,117.9 L1421.8,116.0 L1422.7,114.8 L1423.7,114.5 L1424.6,115.2 L1425.5,117.0 L1426.5,120.0 L1427.4,124.1 L1428.4,129.4 L1429.3,135.6 L1430.3,142.5 L1431.2,149.8 L1432.2,157.2 L1433.1,164.2 L1434.1,170.7 L1435.0,176.6 L1435.9,181.8 L1436.9,186.4 L1437.8,190.5 L1438.8,194.3 L1439.7,197.9 L1440.7,201.4 L1441.6,204.8 L1442.6,208.3 L1443.5,212.1 L1444.4,216.3 L1445.4,221.0 L1446.3,226.4 L1447.3,232.6 L1448.2,239.6 L1449.2,247.5 L1450.1,256.2 L1451.1,265.7 L1452.0,275.9 L1452.9,286.7 L1453.9,298.2 L1454.8,310.1 L1455.8,322.6 L1456.7,335.6 L1457.7,348.9 L1458.6,362.7 L1459.6,376.7 L1460.5,390.8 L1461.5,404.8 L1462.4,418.5 L1463.3,431.4 L1464.3,443.4 L1465.2,454.0 L1466.2,463.1 L1467.1,470.5 L1468.1,476.3 L1469.0,480.6 L1470.0,483.5 L1470.9,485.5 L1471.8,486.7 L1472.8,487.4 L1473.7,487.8 L1474.7,488.0 L1475.6,488.1 L1476.6,488.2 L1707.1,488.2"/>
<path stroke="#63307a" stroke-width="1.25" d="M1234.7,351.6 L1235.6,351.5 L1236.6,351.3 L1237.5,351.2 L1238.5,351.0 L1239.4,350.9 L1240.4,350.7 L1241.3,350.6 L1242.3,350.4 L1243.2,350.2 L1244.1,350.1 L1245.1,349.9 L1246.0,349.8 L1247.0,349.6 L1247.9,349.4 L1248.9,349.3 L1249.8,349.1 L1250.8,349.0 L1251.7,348.8 L1252.7,348.6 L1253.6,348.5 L1254.5,348.3 L1255.5,348.1 L1256.4,348.0 L1257.4,347.8 L1258.3,347.6 L1259.3,347.5 L1260.2,347.3 L1261.2,347.1 L1262.1,346.9 L1263.0,346.8 L1264.0,346.6 L1264.9,346.4 L1265.9,346.2 L1266.8,346.1 L1267.8,345.9 L1268.7,345.7 L1269.7,345.5 L1270.6,345.3 L1271.5,345.2 L1272.5,345.0 L1273.4,344.8 L1274.4,344.6 L1275.3,344.4 L1276.3,344.2 L1277.2,344.0 L1278.2,343.8 L1279.1,343.7 L1280.1,343.5 L1281.0,343.3 L1281.9,343.1 L1282.9,342.9 L1283.8,342.7 L1284.8,342.5 L1285.7,342.3 L1286.7,342.1 L1287.6,341.9 L1288.6,341.7 L1289.5,341.5 L1290.4,341.3 L1291.4,341.0 L1292.3,340.8 L1293.3,340.6 L1294.2,340.4 L1295.2,340.2 L1296.1,340.0 L1297.1,339.8 L1298.0,339.6 L1298.9,339.3 L1299.9,339.1 L1300.8,338.9 L1301.8,338.7 L1302.7,338.4 L1303.7,338.2 L1304.6,338.0 L1305.6,337.8 L1306.5,337.5 L1307.4,337.3 L1308.4,337.1 L1309.3,336.8 L1310.3,336.6 L1311.2,336.4 L1312.2,336.1 L1313.1,335.9 L1314.1,335.6 L1315.0,335.4 L1316.0,335.1 L1316.9,334.9 L1317.8,334.7 L1318.8,334.4 L1319.7,334.1 L1320.7,333.9 L1321.6,333.6 L1322.6,333.4 L1323.5,333.1 L1324.5,332.9 L1325.4,332.6 L1326.3,332.3 L1327.3,332.1 L1328.2,331.8 L1329.2,331.5 L1330.1,331.2 L1331.1,331.0 L1332.0,330.7 L1333.0,330.4 L1333.9,330.1 L1334.8,329.8 L1335.8,329.6 L1336.7,329.3 L1337.7,329.0 L1338.6,328.7 L1339.6,328.4 L1340.5,328.1 L1341.5,327.8 L1342.4,327.5 L1343.4,327.2 L1344.3,326.9 L1345.2,326.6 L1346.2,326.2 L1347.1,325.9 L1348.1,325.6 L1349.0,325.3 L1350.0,325.0 L1350.9,324.6 L1351.9,324.3 L1352.8,324.0 L1353.7,323.7 L1354.7,323.3 L1355.6,323.0 L1356.6,322.6 L1357.5,322.3 L1358.5,321.9 L1359.4,321.6 L1360.4,321.2 L1361.3,320.9 L1362.2,320.5 L1363.2,320.2 L1364.1,319.8 L1365.1,319.4 L1366.0,319.0 L1367.0,318.7 L1367.9,318.3 L1368.9,317.9 L1369.8,317.5 L1370.8,317.1 L1371.7,316.7 L1372.6,316.3 L1373.6,315.9 L1374.5,315.5 L1375.5,315.1 L1376.4,314.7 L1377.4,314.3 L1378.3,313.8 L1379.3,313.4 L1380.2,313.0 L1381.1,312.5 L1382.1,312.1 L1383.0,311.7 L1384.0,311.2 L1384.9,310.8 L1385.9,310.3 L1386.8,309.8 L1387.8,309.4 L1388.7,308.9 L1389.6,308.4 L1390.6,307.9 L1391.5,307.4 L1392.5,306.9 L1393.4,306.4 L1394.4,305.9 L1395.3,305.4 L1396.3,304.9 L1397.2,304.4 L1398.2,303.9 L1399.1,303.3 L1400.0,302.8 L1401.0,302.2 L1401.9,301.7 L1402.9,301.1 L1403.8,300.5 L1404.8,300.0 L1405.7,299.4 L1406.7,298.8 L1407.6,298.2 L1408.5,297.6 L1409.5,297.0 L1410.4,296.3 L1411.4,295.7 L1412.3,295.1 L1413.3,294.4 L1414.2,293.8 L1415.2,293.1 L1416.1,292.4 L1417.0,291.8 L1418.0,291.1 L1418.9,290.4 L1419.9,289.7 L1420.8,288.9 L1421.8,288.2 L1422.7,287.5 L1423.7,286.7 L1424.6,285.9 L1425.5,285.2 L1426.5,284.4 L1427.4,283.6 L1428.4,282.8 L1429.3,281.9 L1430.3,281.1 L1431.2,280.2 L1432.2,279.4 L1433.1,278.5 L1434.1,277.6 L1435.0,276.7 L1435.9,275.7 L1436.9,274.8 L1437.8,273.8 L1438.8,272.8 L1439.7,271.8 L1440.7,270.8 L1441.6,269.8 L1442.6,268.7 L1443.5,267.6 L1444.4,266.5 L1445.4,265.4 L1446.3,264.3 L1447.3,263.1 L1448.2,261.9 L1449.2,260.7 L1450.1,259.5 L1451.1,258.2 L1452.0,256.9 L1452.9,255.5 L1453.9,254.2 L1454.8,252.8 L1455.8,251.4 L1456.7,249.9 L1457.7,248.4 L1458.6,246.8 L1459.6,245.3 L1460.5,243.6 L1461.5,242.0 L1462.4,240.2 L1463.3,238.5 L1464.3,236.6 L1465.2,234.8 L1466.2,232.8 L1467.1,230.8 L1468.1,228.7 L1469.0,226.6 L1470.0,224.4 L1470.9,222.1 L1471.8,219.7 L1472.8,217.2 L1473.7,214.6 L1474.7,211.9 L1475.6,209.0 L1476.6,206.0 L1477.5,202.9 L1478.5,199.5 L1479.4,196.0 L1480.3,192.2 L1481.3,188.0 L1482.2,183.6 L1483.2,178.9 L1484.1,174.0 L1485.1,169.0 L1486.0,163.8 L1487.0,158.5 L1487.9,153.2 L1488.9,147.9 L1489.8,142.7 L1490.7,137.7 L1491.7,133.1 L1492.6,128.8 L1493.6,124.9 L1494.5,121.6 L1495.5,118.8 L1496.4,116.7 L1497.4,115.3 L1498.3,114.6 L1499.2,114.6 L1500.2,115.4 L1501.1,116.8 L1502.1,118.9 L1503.0,121.6 L1504.0,124.9 L1504.9,128.6 L1505.9,132.8 L1506.8,137.2 L1507.7,141.7 L1508.7,146.4 L1509.6,151.1 L1510.6,155.7 L1511.5,160.2 L1512.5,164.5 L1513.4,168.7 L1514.4,172.8 L1515.3,176.8 L1516.3,180.8 L1517.2,184.9 L1518.1,189.2 L1519.1,193.8 L1520.0,198.8 L1521.0,204.2 L1521.9,210.3 L1522.9,217.0 L1523.8,224.3 L1524.8,232.5 L1525.7,241.4 L1526.6,251.0 L1527.6,261.4 L1528.5,272.5 L1529.5,284.2 L1530.4,296.4 L1531.4,309.1 L1532.3,322.0 L1533.3,335.1 L1534.2,348.2 L1535.1,361.2 L1536.1,373.9 L1537.0,386.3 L1538.0,398.1 L1538.9,409.3 L1539.9,419.8 L1540.8,429.4 L1541.8,438.3 L1542.7,446.2 L1543.6,453.3 L1544.6,459.5 L1545.5,464.9 L1546.5,469.5 L1547.4,473.4 L1548.4,476.6 L1549.3,479.2 L1550.3,481.4 L1551.2,483.0 L1552.2,484.4 L1553.1,485.4 L1554.0,486.2 L1555.0,486.8 L1555.9,487.2 L1556.9,487.5 L1557.8,487.7 L1558.8,487.9 L1559.7,488.0 L1560.7,488.1 L1561.6,488.1 L1562.5,488.1 L1563.5,488.2 L1707.1,488.2"/>
<path stroke="#70963a" stroke-width="1.25" d="M1234.7,354.0 L1235.6,353.9 L1236.6,353.8 L1237.5,353.8 L1238.5,353.7 L1239.4,353.6 L1240.4,353.5 L1241.3,353.4 L1242.3,353.3 L1243.2,353.2 L1244.1,353.1 L1245.1,353.0 L1246.0,352.9 L1247.0,352.8 L1247.9,352.7 L1248.9,352.6 L1249.8,352.5 L1250.8,352.4 L1251.7,352.3 L1252.7,352.2 L1253.6,352.1 L1254.5,352.0 L1255.5,351.9 L1256.4,351.8 L1257.4,351.7 L1258.3,351.6 L1259.3,351.5 L1260.2,351.4 L1261.2,351.3 L1262.1,351.2 L1263.0,351.0 L1264.0,350.9 L1264.9,350.8 L1265.9,350.7 L1266.8,350.6 L1267.8,350.5 L1268.7,350.4 L1269.7,350.3 L1270.6,350.2 L1271.5,350.1 L1272.5,350.0 L1273.4,349.9 L1274.4,349.7 L1275.3,349.6 L1276.3,349.5 L1277.2,349.4 L1278.2,349.3 L1279.1,349.2 L1280.1,349.1 L1281.0,348.9 L1281.9,348.8 L1282.9,348.7 L1283.8,348.6 L1284.8,348.5 L1285.7,348.4 L1286.7,348.2 L1287.6,348.1 L1288.6,348.0 L1289.5,347.9 L1290.4,347.8 L1291.4,347.6 L1292.3,347.5 L1293.3,347.4 L1294.2,347.3 L1295.2,347.2 L1296.1,347.0 L1297.1,346.9 L1298.0,346.8 L1298.9,346.7 L1299.9,346.5 L1300.8,346.4 L1301.8,346.3 L1302.7,346.1 L1303.7,346.0 L1304.6,345.9 L1305.6,345.8 L1306.5,345.6 L1307.4,345.5 L1308.4,345.4 L1309.3,345.2 L1310.3,345.1 L1311.2,345.0 L1312.2,344.8 L1313.1,344.7 L1314.1,344.6 L1315.0,344.4 L1316.0,344.3 L1316.9,344.1 L1317.8,344.0 L1318.8,343.9 L1319.7,343.7 L1320.7,343.6 L1321.6,343.4 L1322.6,343.3 L1323.5,343.2 L1324.5,343.0 L1325.4,342.9 L1326.3,342.7 L1327.3,342.6 L1328.2,342.4 L1329.2,342.3 L1330.1,342.1 L1331.1,342.0 L1332.0,341.8 L1333.0,341.7 L1333.9,341.5 L1334.8,341.4 L1335.8,341.2 L1336.7,341.1 L1337.7,340.9 L1338.6,340.8 L1339.6,340.6 L1340.5,340.4 L1341.5,340.3 L1342.4,340.1 L1343.4,340.0 L1344.3,339.8 L1345.2,339.6 L1346.2,339.5 L1347.1,339.3 L1348.1,339.2 L1349.0,339.0 L1350.0,338.8 L1350.9,338.7 L1351.9,338.5 L1352.8,338.3 L1353.7,338.1 L1354.7,338.0 L1355.6,337.8 L1356.6,337.6 L1357.5,337.5 L1358.5,337.3 L1359.4,337.1 L1360.4,336.9 L1361.3,336.7 L1362.2,336.6 L1363.2,336.4 L1364.1,336.2 L1365.1,336.0 L1366.0,335.8 L1367.0,335.7 L1367.9,335.5 L1368.9,335.3 L1369.8,335.1 L1370.8,334.9 L1371.7,334.7 L1372.6,334.5 L1373.6,334.3 L1374.5,334.1 L1375.5,333.9 L1376.4,333.7 L1377.4,333.5 L1378.3,333.3 L1379.3,333.1 L1380.2,332.9 L1381.1,332.7 L1382.1,332.5 L1383.0,332.3 L1384.0,332.1 L1384.9,331.9 L1385.9,331.7 L1386.8,331.5 L1387.8,331.3 L1388.7,331.1 L1389.6,330.9 L1390.6,330.6 L1391.5,330.4 L1392.5,330.2 L1393.4,330.0 L1394.4,329.8 L1395.3,329.5 L1396.3,329.3 L1397.2,329.1 L1398.2,328.9 L1399.1,328.6 L1400.0,328.4 L1401.0,328.2 L1401.9,327.9 L1402.9,327.7 L1403.8,327.5 L1404.8,327.2 L1405.7,327.0 L1406.7,326.7 L1407.6,326.5 L1408.5,326.2 L1409.5,326.0 L1410.4,325.7 L1411.4,325.5 L1412.3,325.2 L1413.3,325.0 L1414.2,324.7 L1415.2,324.5 L1416.1,324.2 L1417.0,323.9 L1418.0,323.7 L1418.9,323.4 L1419.9,323.1 L1420.8,322.9 L1421.8,322.6 L1422.7,322.3 L1423.7,322.0 L1424.6,321.8 L1425.5,321.5 L1426.5,321.2 L1427.4,320.9 L1428.4,320.6 L1429.3,320.3 L1430.3,320.0 L1431.2,319.7 L1432.2,319.4 L1433.1,319.1 L1434.1,318.8 L1435.0,318.5 L1435.9,318.2 L1436.9,317.9 L1437.8,317.6 L1438.8,317.3 L1439.7,317.0 L1440.7,316.6 L1441.6,316.3 L1442.6,316.0 L1443.5,315.7 L1444.4,315.3 L1445.4,315.0 L1446.3,314.7 L1447.3,314.3 L1448.2,314.0 L1449.2,313.6 L1450.1,313.3 L1451.1,312.9 L1452.0,312.6 L1452.9,312.2 L1453.9,311.8 L1454.8,311.5 L1455.8,311.1 L1456.7,310.7 L1457.7,310.3 L1458.6,310.0 L1459.6,309.6 L1460.5,309.2 L1461.5,308.8 L1462.4,308.4 L1463.3,308.0 L1464.3,307.6 L1465.2,307.2 L1466.2,306.8 L1467.1,306.4 L1468.1,305.9 L1469.0,305.5 L1470.0,305.1 L1470.9,304.6 L1471.8,304.2 L1472.8,303.8 L1473.7,303.3 L1474.7,302.9 L1475.6,302.4 L1476.6,301.9 L1477.5,301.5 L1478.5,301.0 L1479.4,300.5 L1480.3,300.0 L1481.3,299.5 L1482.2,299.0 L1483.2,298.5 L1484.1,298.0 L1485.1,297.5 L1486.0,297.0 L1487.0,296.5 L1487.9,295.9 L1488.9,295.4 L1489.8,294.9 L1490.7,294.3 L1491.7,293.8 L1492.6,293.2 L1493.6,292.6 L1494.5,292.0 L1495.5,291.5 L1496.4,290.9 L1497.4,290.3 L1498.3,289.6 L1499.2,289.0 L1500.2,288.4 L1501.1,287.8 L1502.1,287.1 L1503.0,286.5 L1504.0,285.8 L1504.9,285.1 L1505.9,284.5 L1506.8,283.8 L1507.7,283.1 L1508.7,282.3 L1509.6,281.6 L1510.6,280.9 L1511.5,280.1 L1512.5,279.4 L1513.4,278.6 L1514.4,277.8 L1515.3,277.0 L1516.3,276.2 L1517.2,275.4 L1518.1,274.6 L1519.1,273.7 L1520.0,272.9 L1521.0,272.0 L1521.9,271.1 L1522.9,270.2 L1523.8,269.3 L1524.8,268.3 L1525.7,267.4 L1526.6,266.4 L1527.6,265.4 L1528.5,264.4 L1529.5,263.4 L1530.4,262.3 L1531.4,261.2 L1532.3,260.1 L1533.3,259.0 L1534.2,257.8 L1535.1,256.7 L1536.1,255.5 L1537.0,254.3 L1538.0,253.0 L1538.9,251.7 L1539.9,250.4 L1540.8,249.1 L1541.8,247.7 L1542.7,246.3 L1543.6,244.8 L1544.6,243.3 L1545.5,241.8 L1546.5,240.2 L1547.4,238.6 L1548.4,236.9 L1549.3,235.2 L1550.3,233.4 L1551.2,231.5 L1552.2,229.6 L1553.1,227.6 L1554.0,225.6 L1555.0,223.4 L1555.9,221.2 L1556.9,218.8 L1557.8,216.3 L1558.8,213.7 L1559.7,210.9 L1560.7,208.0 L1561.6,204.9 L1562.5,201.7 L1563.5,198.4 L1564.4,195.0 L1565.4,191.4 L1566.3,187.7 L1567.3,183.9 L1568.2,180.0 L1569.2,176.1 L1570.1,172.0 L1571.0,168.0 L1572.0,163.9 L1572.9,159.8 L1573.9,155.8 L1574.8,151.8 L1575.8,147.9 L1576.7,144.1 L1577.7,140.5 L1578.6,137.0 L1579.6,133.7 L1580.5,130.6 L1581.4,127.7 L1582.4,125.0 L1583.3,122.7 L1584.3,120.6 L1585.2,118.7 L1586.2,117.2 L1587.1,116.0 L1588.1,115.1 L1589.0,114.6 L1589.9,114.5 L1590.9,114.8 L1591.8,115.5 L1592.8,116.6 L1593.7,118.1 L1594.7,120.1 L1595.6,122.5 L1596.6,125.4 L1597.5,128.7 L1598.4,132.5 L1599.4,136.7 L1600.3,141.4 L1601.3,146.5 L1602.2,152.0 L1603.2,158.0 L1604.1,164.4 L1605.1,171.2 L1606.0,178.4 L1607.0,186.0 L1607.9,193.9 L1608.8,202.2 L1609.8,210.8 L1610.7,219.7 L1611.7,228.9 L1612.6,238.3 L1613.6,248.0 L1614.5,257.9 L1615.5,268.0 L1616.4,278.3 L1617.3,288.7 L1618.3,299.1 L1619.2,309.6 L1620.2,320.1 L1621.1,330.6 L1622.1,340.9 L1623.0,351.2 L1624.0,361.2 L1624.9,371.1 L1625.8,380.6 L1626.8,389.9 L1627.7,398.7 L1628.7,407.2 L1629.6,415.3 L1630.6,422.9 L1631.5,430.1 L1632.5,436.7 L1633.4,442.9 L1634.4,448.6 L1635.3,453.7 L1636.2,458.4 L1637.2,462.6 L1638.1,466.4 L1639.1,469.7 L1640.0,472.7 L1641.0,475.2 L1641.9,477.4 L1642.9,479.3 L1643.8,480.9 L1644.7,482.3 L1645.7,483.4 L1646.6,484.4 L1647.6,485.2 L1648.5,485.8 L1649.5,486.3 L1650.4,486.8 L1651.4,487.1 L1652.3,487.4 L1653.2,487.6 L1654.2,487.7 L1655.1,487.8 L1656.1,487.9 L1657.0,488.0 L1658.0,488.1 L1658.9,488.1 L1659.9,488.1 L1660.8,488.2 L1707.1,488.2"/>
</g>
<rect x="1553.2" y="354.9" width="143.5" height="124.9" fill="#fff" stroke="#2b2b2b" stroke-width="1.9"/>
<line x1="1560.7" x2="1603.1" y1="372.1" y2="372.1" stroke="#4472C4" stroke-width="3.2"/>
<line x1="1560.7" x2="1603.1" y1="395.9" y2="395.9" stroke="#C00000" stroke-width="3.2"/>
<line x1="1560.7" x2="1603.1" y1="419.9" y2="419.9" stroke="#FFC000" stroke-width="3.2"/>
<line x1="1560.7" x2="1603.1" y1="444.4" y2="444.4" stroke="#7030A0" stroke-width="3.2"/>
<line x1="1560.7" x2="1603.1" y1="468.8" y2="468.8" stroke="#70AD47" stroke-width="3.2"/>
<g>
<text transform="translate(1229.63,520.71) scale(0.915,1)" font-size="28.3">0</text>
<text transform="translate(1345.39,520.50) scale(0.915,1)" font-size="28.3">5</text>
<text transform="translate(1460.81,521.07) scale(0.915,1)" font-size="28.3">10</text>
<text transform="translate(1578.89,520.90) scale(0.915,1)" font-size="28.3">15</text>
<text transform="translate(1692.72,520.79) scale(0.915,1)" font-size="28.3">20</text>
<text transform="translate(1212.93,122.14) scale(0.760,1)" font-size="28.3">1</text>
<text transform="translate(1198.00,310.00) scale(0.915,1)" font-size="28.3">0.5</text>
<text transform="translate(1213.63,496.10) scale(0.915,1)" font-size="28.3">0</text>
<text transform="translate(1377.92,555.40) scale(0.975,1)" font-size="26.8">Water depth [cm]</text>
<text transform="translate(1190.10,373.27) rotate(-90) scale(0.985,1)" font-size="26.9" word-spacing="-2.0">Relative dose</text>
<text transform="translate(1303.43,83.15) scale(1.005,1)" font-size="34.8">(c)</text>
<text transform="translate(1618.68,374.90) scale(0.980,1)" font-size="20.6">80 MeV</text>
<text transform="translate(1608.49,399.70) scale(0.980,1)" font-size="20.6">100 MeV</text>
<text transform="translate(1608.49,423.50) scale(0.980,1)" font-size="20.6">120 MeV</text>
<text transform="translate(1608.49,449.30) scale(0.980,1)" font-size="20.6">140 MeV</text>
<text transform="translate(1608.49,473.10) scale(0.980,1)" font-size="20.6">160 MeV</text>
</g></g>
</svg>
</body></html>
